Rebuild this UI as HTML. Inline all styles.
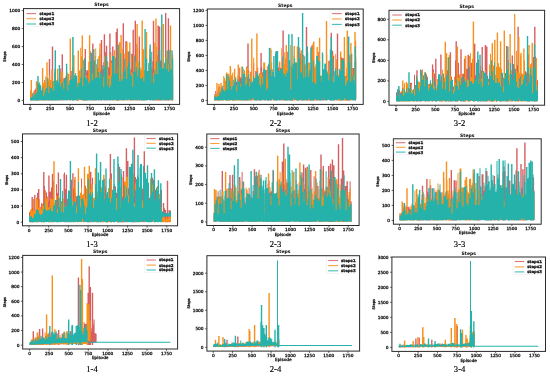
<!DOCTYPE html><html><head><meta charset="utf-8"><style>html,body{margin:0;padding:0;background:#fff;width:550px;height:377px;overflow:hidden}svg{display:block;filter:blur(0.3px)}text{font-family:"DejaVu Sans","Liberation Sans",sans-serif;fill:#111}text.t{stroke:#111;stroke-width:0.28px}text.h{stroke:#111;stroke-width:0.05px}text.lab{font-family:"Liberation Serif","DejaVu Serif",serif;fill:#000;stroke:#000;stroke-width:0.15px}</style></head><body><svg width="550" height="377" viewBox="0 0 550 377"><defs><clipPath id="c0"><rect x="23.5" y="8.6" width="156.1" height="95.8"/></clipPath><clipPath id="c1"><rect x="207.3" y="9" width="155.9" height="95.4"/></clipPath><clipPath id="c2"><rect x="389" y="10.3" width="155.6" height="94.9"/></clipPath><clipPath id="c3"><rect x="22.5" y="133.9" width="155.1" height="91.9"/></clipPath><clipPath id="c4"><rect x="206.8" y="134" width="152.3" height="91.5"/></clipPath><clipPath id="c5"><rect x="393.4" y="138.8" width="147.8" height="85.4"/></clipPath><clipPath id="c6"><rect x="22.7" y="255.4" width="154.9" height="93.6"/></clipPath><clipPath id="c7"><rect x="206.9" y="255.7" width="152.7" height="95.4"/></clipPath><clipPath id="c8"><rect x="391.9" y="257" width="153.6" height="94.4"/></clipPath></defs><rect width="550" height="377" fill="#fff"/><g clip-path="url(#c0)">
<path fill="#d65f62" d="M30.2 100.38V90.29h1V96.46h1V94.85h1V93.48h1V89.99h1V88.38h1V88.44h1V89.52h1V86.28h1V95.17h1V87.33h1V93.6h1V90.97h1V92.28h1V79.96h1V86.19h1V87.65h1V86.19h1V87.08h1V80.43h1V93.36h1V91.22h1V84.23h1V87.37h1V81.62h1V81.62h1V89.34h1V77.29h1V84.21h1V80.12h1V68.43h1V78.29h1V84.35h1V78.2h1V78.2h1V76.6h1V80.45h1V89.86h1V84.86h1V86.11h1V83.16h1V70.93h1V88.82h1V75.02h1V78.69h1V84.4h1V81.53h1V87.75h1V72.17h1V77.6h1V70.87h1V69.33h1V75.32h1V78.24h1V84.23h1V73.09h1V70.25h1V70.27h1V70.27h1V84.26h1V51.14h1V61.34h1V75.59h1V65.88h1V64.5h1V80.2h1V64.21h1V77.45h1V77.97h1V54.26h1V69.81h1V69.26h1V69.26h1V62.3h1V68.66h1V51.91h1V57.03h1V61.57h1V67.2h1V52.23h1V52.23h1V60.42h1V56.32h1V59.51h1V78.89h1V73.98h1V74.96h1V81.67h1V49.75h1V71.36h1V57.53h1V74.62h1V70.56h1V79.82h1V85.27h1V41.22h1V41.22h1V51.49h1V51.49h1V86.22h1V69.14h1V53.8h1V53.8h1V77.85h1V66.56h1V56.84h1V43.63h1V61.03h1V82.22h1V84.43h1V71.3h1V71.57h1V63.21h1V63.24h1V71.24h1V65.18h1V76.26h1V84.06h1V72.67h1V56.65h1V58.39h1V69.08h1V61.32h1V67.41h1V74.5h1V83.28h1V79.03h1V55.09h1V56.02h1V75.12h1V60.39h1V60.39h1V74.13h1V63.85h1V66.7h1V64.17h1V64.17h1V77.82h1V78.42h1V69.4h1V57.76h1V69.83h1V75.54h1V100.4h-1V99.9h-1V99.24h-1V99.71h-1V100.32h-1V100.32h-1V100.38h-1V100.39h-1V97.96h-1V99.52h-1V99.52h-1V98.83h-1V100.24h-1V100.07h-1V99.78h-1V99.47h-1V100.28h-1V99.03h-1V100.12h-1V99.75h-1V99.57h-1V99.39h-1V100.19h-1V98.93h-1V97.97h-1V99.94h-1V99.94h-1V99.72h-1V100.33h-1V100.33h-1V99.9h-1V100.35h-1V99.68h-1V100.12h-1V99.28h-1V100.38h-1V100.32h-1V98.61h-1V99.91h-1V98.41h-1V99.26h-1V99.03h-1V99.65h-1V99.78h-1V100.28h-1V99.32h-1V99.15h-1V99.77h-1V99.77h-1V99.77h-1V99.99h-1V99.74h-1V99.45h-1V100.11h-1V100.3h-1V100.32h-1V99.47h-1V100.09h-1V98.76h-1V99.77h-1V99.66h-1V99.06h-1V99.42h-1V100.26h-1V98.42h-1V100.18h-1V99.91h-1V99.91h-1V100.35h-1V99.6h-1V98.47h-1V100.1h-1V98.79h-1V98.62h-1V100.24h-1V99.98h-1V100.28h-1V100.31h-1V98.78h-1V99.66h-1V100.02h-1V98.77h-1V99.73h-1V99.73h-1V99.6h-1V100.18h-1V100.3h-1V99.75h-1V100.2h-1V98.79h-1V99.61h-1V100.1h-1V100.37h-1V99.95h-1V100.21h-1V100.38h-1V100.38h-1V100.05h-1V99.24h-1V99.99h-1V100.38h-1V97.62h-1V100.16h-1V99.6h-1V100.08h-1V99.87h-1V99.42h-1V99.52h-1V99.66h-1V100.35h-1V99.77h-1V98.94h-1V99.35h-1V100.24h-1V99.75h-1V99.85h-1V99.85h-1V100.17h-1V100.37h-1V100.37h-1V99.97h-1V99.93h-1V99.93h-1V100.39h-1V100.36h-1V99.42h-1V100.33h-1V100.17h-1V100.38h-1V99.77h-1V99.94h-1V100.29h-1V100.31h-1V100.32h-1V100.36h-1V100.26h-1V100.3h-1V100.27h-1V100h-1V100.19h-1V100.34h-1V100.34h-1V100.38h-1ZM48.8 58.9h1.4V100.4h-1.4ZM51.8 46.5h1.4V100.4h-1.4ZM61.6 54.3h1.4V100.4h-1.4ZM84.6 49h1.4V100.4h-1.4ZM92.1 43.6h1.4V100.4h-1.4ZM100.8 40h1.4V100.4h-1.4ZM103.7 34.2h1.4V100.4h-1.4ZM105.8 45.8h1.4V100.4h-1.4ZM109.2 33.5h1.4V100.4h-1.4ZM112.1 46.5h1.4V100.4h-1.4ZM115.6 32h1.4V100.4h-1.4ZM116.5 28.4h1.4V100.4h-1.4ZM122.6 23.3h1.4V100.4h-1.4ZM132.5 29.8h1.4V100.4h-1.4ZM134.6 20.8h1.4V100.4h-1.4ZM138.6 36.4h1.4V100.4h-1.4ZM152.8 20.8h1.4V100.4h-1.4ZM157.5 25.5h1.4V100.4h-1.4ZM158.9 26.6h1.4V100.4h-1.4ZM165 13.1h1.4V100.4h-1.4ZM167.7 18.2h1.4V100.4h-1.4Z"/>
<path fill="#f8901c" d="M30.2 100.04V91.04h1V92.11h1V95.77h1V91.29h1V93.68h1V93.74h1V88.61h1V82.17h1V85.24h1V91.23h1V90.95h1V90.91h1V83.9h1V82.98h1V82.98h1V76.86h1V93.12h1V81.86h1V78.85h1V75.59h1V79.92h1V90.75h1V79.75h1V81.1h1V72.03h1V82.99h1V80.12h1V84.88h1V82.92h1V68.03h1V80.81h1V72.09h1V72.09h1V82.68h1V85.04h1V85.24h1V74.33h1V72.78h1V74.11h1V85.79h1V76.71h1V85.52h1V67.11h1V67.07h1V83.04h1V79.67h1V81.83h1V83.34h1V70.25h1V70.25h1V47.86h1V56.31h1V73.62h1V78.45h1V73.59h1V75.28h1V75.28h1V81.74h1V61.72h1V61.72h1V70.26h1V62.23h1V73.46h1V73.46h1V71.95h1V48.54h1V68.12h1V68.12h1V56.15h1V49.05h1V76.69h1V77.84h1V80.68h1V76.42h1V56.08h1V71.44h1V62.39h1V62.15h1V75.53h1V75.53h1V53.78h1V62.89h1V79.31h1V69.73h1V65.79h1V69.94h1V81.85h1V66.2h1V64.98h1V56.12h1V56.12h1V75.69h1V48.83h1V85.8h1V53.43h1V69.21h1V47.65h1V51.99h1V76.15h1V69.79h1V82.2h1V72.05h1V73.65h1V54.91h1V76.79h1V61.75h1V47.51h1V47.51h1V62.6h1V71.88h1V67.64h1V70.08h1V48.58h1V49.29h1V70.44h1V48.48h1V76.31h1V74.19h1V76.23h1V48.63h1V72.74h1V67.85h1V78.16h1V73.03h1V42.85h1V61.9h1V46.77h1V61.08h1V66.1h1V77.9h1V76.9h1V77.72h1V73.76h1V64.54h1V63.76h1V57.31h1V50.69h1V58.12h1V63.89h1V63.89h1V61.81h1V73.22h1V54.53h1V99.35h-1V100.27h-1V98.42h-1V100.27h-1V100.16h-1V99.55h-1V99.28h-1V97.28h-1V100.27h-1V99.79h-1V99.85h-1V99.8h-1V100.13h-1V100.39h-1V97.87h-1V100.28h-1V100.33h-1V96.09h-1V100.26h-1V99.89h-1V100.4h-1V99.16h-1V99.18h-1V99.51h-1V99.51h-1V100.27h-1V99.45h-1V99.87h-1V98.86h-1V100.02h-1V99.95h-1V99.6h-1V100.31h-1V99.68h-1V99.74h-1V98.5h-1V100.34h-1V99.08h-1V98.47h-1V99.95h-1V100.06h-1V100.26h-1V100.26h-1V100.32h-1V98.14h-1V98.88h-1V98.88h-1V100.27h-1V100.21h-1V100.32h-1V99.52h-1V97.98h-1V99.81h-1V100.32h-1V99.18h-1V100.38h-1V99.7h-1V99.7h-1V99.72h-1V99.47h-1V99.96h-1V98.66h-1V99.8h-1V99.54h-1V98.33h-1V100.09h-1V99.65h-1V98.1h-1V99.96h-1V99.09h-1V97.06h-1V100.37h-1V99.97h-1V99.97h-1V99.71h-1V98.45h-1V98.38h-1V99.87h-1V100.13h-1V99.65h-1V100h-1V99.67h-1V100.31h-1V98.06h-1V99.66h-1V99.98h-1V100.4h-1V99.23h-1V100.18h-1V100.38h-1V100.38h-1V100.28h-1V99.98h-1V99.98h-1V99.13h-1V100.39h-1V100.11h-1V99.48h-1V98.35h-1V99.37h-1V99.59h-1V99.94h-1V100.21h-1V99.95h-1V100.21h-1V98.45h-1V99.74h-1V99.93h-1V100.27h-1V99.75h-1V99.34h-1V99.56h-1V100.32h-1V99.82h-1V99.41h-1V99.65h-1V99.56h-1V100.35h-1V100.35h-1V99.15h-1V100.37h-1V100.13h-1V99.9h-1V99.9h-1V100.39h-1V99.18h-1V99.49h-1V100.26h-1V100.07h-1V100.25h-1V99.97h-1V100.29h-1V100.28h-1V100.21h-1V100.21h-1V100.39h-1V100.15h-1V100.36h-1V100.08h-1V100.33h-1V99.93h-1V99.69h-1V100.04h-1ZM30.6 80h1.4V100.4h-1.4ZM35.8 81.2h1.4V100.4h-1.4ZM41.9 68h1.4V100.4h-1.4ZM46.3 62.3h1.4V100.4h-1.4ZM51.3 69.5h1.4V100.4h-1.4ZM56.9 68.8h1.4V100.4h-1.4ZM69.6 38.5h1.4V100.4h-1.4ZM73.2 55.3h1.4V100.4h-1.4ZM77.6 50.5h1.4V100.4h-1.4ZM81.6 35.6h1.4V100.4h-1.4ZM88.9 35.3h1.4V100.4h-1.4ZM94.7 56h1.4V100.4h-1.4ZM99.4 43.6h1.4V100.4h-1.4ZM113.8 50.2h1.4V100.4h-1.4ZM118.9 42.2h1.4V100.4h-1.4ZM120.4 34.9h1.4V100.4h-1.4ZM126.2 42.2h1.4V100.4h-1.4ZM129.1 42.6h1.4V100.4h-1.4ZM136.4 24h1.4V100.4h-1.4ZM141.5 20.4h1.4V100.4h-1.4ZM145.8 32h1.4V100.4h-1.4ZM155.3 18.5h1.4V100.4h-1.4ZM162.6 24h1.4V100.4h-1.4ZM169.8 25.5h1.4V100.4h-1.4Z"/>
<path fill="#24b2aa" d="M30.2 100.4V96.74h1V98.07h1V93.03h1V96.61h1V93.92h1V94.46h1V92.39h1V92.2h1V84.2h1V82.24h1V85.35h1V90.15h1V87.26h1V95.95h1V92.76h1V89.22h1V87.94h1V77.64h1V93.04h1V86.1h1V88.11h1V88.38h1V80.96h1V90.86h1V68.86h1V84.21h1V81.1h1V79.83h1V82.73h1V82.8h1V86.39h1V83.06h1V81.33h1V88.79h1V77.88h1V79.29h1V72.51h1V91.01h1V84.63h1V80.51h1V75.74h1V79.53h1V78.23h1V78.76h1V74.9h1V72.97h1V75.64h1V86.93h1V83.5h1V82.69h1V77.5h1V68.36h1V86.24h1V59.87h1V58.12h1V76.81h1V79.3h1V77.83h1V83.48h1V81.4h1V61.8h1V81.11h1V80.28h1V77.32h1V60.44h1V78.04h1V77.24h1V58.88h1V72.11h1V77.88h1V71.23h1V73.78h1V65.04h1V86.99h1V66.82h1V56.42h1V56.42h1V85.85h1V78.97h1V87.64h1V84.89h1V76.57h1V55.99h1V55.99h1V73.39h1V57.61h1V73.29h1V74.37h1V78.04h1V80.99h1V53.22h1V81.35h1V78.96h1V72.27h1V59.05h1V69.43h1V79.02h1V66.93h1V62.86h1V51.14h1V73.79h1V75.96h1V86.8h1V71.83h1V55.43h1V71.45h1V66.98h1V76.58h1V69.26h1V60.86h1V78.7h1V78.23h1V77.25h1V81.24h1V82.25h1V58.49h1V58.49h1V71.09h1V62.93h1V75.36h1V83.42h1V51.79h1V76.28h1V83.21h1V69.65h1V74.02h1V61.5h1V73.98h1V62.87h1V49.91h1V66.9h1V64.51h1V68.35h1V68.64h1V62.6h1V58.76h1V69.16h1V50.46h1V71.83h1V49.69h1V69.14h1V76.88h1V59.36h1V99.6h-1V100.4h-1V99.1h-1V100.04h-1V100.37h-1V100.32h-1V99.71h-1V100.11h-1V100.37h-1V100.33h-1V99.32h-1V99.33h-1V100.14h-1V99.78h-1V98.81h-1V99.39h-1V100.37h-1V100.27h-1V100.22h-1V100.25h-1V100.35h-1V100.29h-1V100.37h-1V100.11h-1V100.11h-1V100.02h-1V100.35h-1V100.01h-1V99.61h-1V100.38h-1V100.38h-1V100.25h-1V100.25h-1V100.31h-1V99.89h-1V100.34h-1V99.92h-1V99.83h-1V99.82h-1V100.36h-1V100.37h-1V100.26h-1V100.39h-1V99.7h-1V99.59h-1V100.25h-1V100.01h-1V99.72h-1V100.35h-1V100.15h-1V100.25h-1V100.24h-1V99.95h-1V99.95h-1V100.35h-1V100.27h-1V100.19h-1V100.12h-1V99.66h-1V100.17h-1V99.94h-1V100.22h-1V100.3h-1V100.25h-1V100.25h-1V100.21h-1V100.07h-1V100.14h-1V100.06h-1V100.3h-1V100.09h-1V100.35h-1V100.35h-1V99.95h-1V100.4h-1V100.33h-1V100.33h-1V100.36h-1V100.36h-1V99.7h-1V99.92h-1V99.85h-1V100.13h-1V100.3h-1V100.3h-1V100.39h-1V100.32h-1V100.38h-1V100.4h-1V100.4h-1V100.32h-1V99.4h-1V100.08h-1V100.09h-1V98.63h-1V100.18h-1V100.33h-1V100.27h-1V100.27h-1V100.19h-1V100.1h-1V99.93h-1V100.34h-1V100.14h-1V99.63h-1V100.19h-1V100.13h-1V100.19h-1V100.29h-1V100.29h-1V99.55h-1V100.18h-1V100.2h-1V99.15h-1V99.89h-1V100.38h-1V100.38h-1V100.15h-1V100.12h-1V100.14h-1V100.38h-1V100.21h-1V100.38h-1V100.29h-1V100.2h-1V100.23h-1V100.33h-1V100.29h-1V100.3h-1V100.39h-1V100.38h-1V100.11h-1V100.19h-1V100.15h-1V100.4h-1V100.36h-1V100.38h-1V100.39h-1V100.39h-1V100.39h-1V100.38h-1V100.36h-1V100.4h-1ZM37.3 76h1.4V100.4h-1.4ZM54.6 50.2h1.4V100.4h-1.4ZM58.7 65h1.4V100.4h-1.4ZM65.9 63.7h1.4V100.4h-1.4ZM72.15 37.1h1.5V100.4h-1.5ZM90.7 53h1.4V100.4h-1.4ZM93.1 49h1.4V100.4h-1.4ZM117.5 44.4h1.4V100.4h-1.4ZM144.4 29.1h1.4V100.4h-1.4ZM149.5 44.4h1.4V100.4h-1.4ZM161.1 14.5h1.4V100.4h-1.4ZM171.3 50.2h1.4V100.4h-1.4Z"/>
</g>
<rect x="23.5" y="8.6" width="156.1" height="95.8" fill="none" stroke="#2a2a2a" stroke-width="1"/>
<text x="20.2" y="101.95" font-size="4.3" text-anchor="end" class="t">0</text>
<text x="20.2" y="83.99" font-size="4.3" text-anchor="end" class="t">200</text>
<text x="20.2" y="66.03" font-size="4.3" text-anchor="end" class="t">400</text>
<text x="20.2" y="48.07" font-size="4.3" text-anchor="end" class="t">600</text>
<text x="20.2" y="30.11" font-size="4.3" text-anchor="end" class="t">800</text>
<text x="20.2" y="12.15" font-size="4.3" text-anchor="end" class="t">1000</text>
<text x="30.2" y="110.3" font-size="4.3" text-anchor="middle" class="t">0</text>
<text x="50.1" y="110.3" font-size="4.3" text-anchor="middle" class="t">250</text>
<text x="70" y="110.3" font-size="4.3" text-anchor="middle" class="t">500</text>
<text x="89.9" y="110.3" font-size="4.3" text-anchor="middle" class="t">750</text>
<text x="109.8" y="110.3" font-size="4.3" text-anchor="middle" class="t">1000</text>
<text x="129.7" y="110.3" font-size="4.3" text-anchor="middle" class="t">1250</text>
<text x="149.6" y="110.3" font-size="4.3" text-anchor="middle" class="t">1500</text>
<text x="169.5" y="110.3" font-size="4.3" text-anchor="middle" class="t">1750</text>
<path stroke="#222" stroke-width="0.7" d="M23.5 100.4h-1.8M23.5 82.44h-1.8M23.5 64.48h-1.8M23.5 46.52h-1.8M23.5 28.56h-1.8M23.5 10.6h-1.8M30.2 104.4v1.8M50.1 104.4v1.8M70 104.4v1.8M89.9 104.4v1.8M109.8 104.4v1.8M129.7 104.4v1.8M149.6 104.4v1.8M169.5 104.4v1.8"/>
<text x="101.55" y="6.3" font-size="4.55" text-anchor="middle" class="h" font-weight="bold">Steps</text>
<text x="101.55" y="114.6" font-size="4.2" text-anchor="middle" class="t">Episode</text>
<text x="5.2" y="56.5" font-size="3.7" text-anchor="middle" class="t" transform="rotate(-90 5.2 56.5)" dy="1.3">Steps</text>
<rect x="24.6" y="11" width="29.7" height="15.6" rx="0.6" fill="#fff" fill-opacity="0.8" stroke="#e4e4e4" stroke-width="0.4"/>
<path stroke="#d65f62" stroke-width="1.1" stroke-opacity="0.85" d="M26.4 13.6H36.1"/>
<text x="39.5" y="15.05" font-size="3.9" text-anchor="start" class="t" font-weight="bold">steps1</text>
<path stroke="#f8901c" stroke-width="1.1" stroke-opacity="0.85" d="M26.4 18.7H36.1"/>
<text x="39.5" y="20.15" font-size="3.9" text-anchor="start" class="t" font-weight="bold">steps2</text>
<path stroke="#24b2aa" stroke-width="1.1" stroke-opacity="0.85" d="M26.4 24H36.1"/>
<text x="39.5" y="25.45" font-size="3.9" text-anchor="start" class="t" font-weight="bold">steps3</text>
<text x="92" y="125.8" font-size="8.6" text-anchor="middle" class="lab">1-2</text>
<g clip-path="url(#c1)">
<path fill="#d65f62" d="M214.2 100.35V96.19h1V91.08h1V94.21h1V91.6h1V86.86h1V86.86h1V96.3h1V90.89h1V88.36h1V90.01h1V90.96h1V88.09h1V73.65h1V88.95h1V83.44h1V77.09h1V77.09h1V88.7h1V86.81h1V89.12h1V78.25h1V79.11h1V82h1V87.75h1V76.73h1V67.74h1V77.48h1V76.33h1V78.23h1V73.88h1V83.17h1V77.02h1V66.41h1V85.18h1V70.86h1V78.84h1V71.7h1V80.77h1V82.35h1V63h1V81.29h1V71.09h1V71.09h1V67.45h1V77.66h1V73.45h1V67.46h1V67.46h1V72.27h1V72.27h1V72.5h1V87.14h1V69.95h1V67.15h1V65.08h1V78.26h1V77.39h1V80.51h1V84.78h1V76.93h1V86.8h1V53.99h1V85.69h1V62.85h1V67.46h1V62.52h1V67.68h1V68.79h1V64.68h1V78.24h1V73.38h1V68.47h1V82.23h1V51.76h1V72.88h1V75.58h1V65.49h1V76.21h1V76.01h1V76.49h1V73.07h1V81.37h1V81.26h1V72.39h1V77.21h1V47.49h1V53.61h1V60.83h1V58.62h1V83.26h1V74.67h1V78.12h1V78.12h1V81.38h1V73.97h1V80.53h1V68.91h1V45.56h1V45.56h1V84.22h1V75.06h1V67.62h1V65.43h1V62.22h1V51.8h1V92.21h1V79.51h1V83.87h1V69.86h1V78.56h1V84.05h1V83.4h1V54.1h1V74.93h1V60.88h1V60.88h1V69.33h1V50.77h1V50.77h1V55.83h1V86.33h1V67.82h1V74.03h1V63.74h1V87.27h1V68.82h1V57.33h1V57.33h1V58.15h1V58.15h1V63.3h1V76.17h1V74.93h1V51.86h1V89.51h1V55.18h1V55.18h1V71.02h1V68.1h1V68.1h1V62.11h1V57.1h1V99.33h-1V98.56h-1V99.73h-1V100.38h-1V100.08h-1V100.07h-1V100.4h-1V100.29h-1V100.44h-1V100.44h-1V100.16h-1V99.89h-1V100.49h-1V100h-1V98.97h-1V100.27h-1V100.37h-1V100.49h-1V100.2h-1V99.82h-1V99.82h-1V100.43h-1V100.35h-1V100.03h-1V100.48h-1V98.85h-1V99.68h-1V98.33h-1V99.44h-1V99.58h-1V100.17h-1V100.17h-1V100.47h-1V99.59h-1V100.31h-1V100.26h-1V100.45h-1V100.26h-1V100.33h-1V100.33h-1V99.04h-1V100.46h-1V100.46h-1V97.31h-1V100.46h-1V100.49h-1V100.48h-1V100.04h-1V100.44h-1V98.74h-1V100.23h-1V100.31h-1V100.31h-1V100.42h-1V100.42h-1V99.94h-1V99.58h-1V99.99h-1V100.19h-1V100.5h-1V99.42h-1V100.21h-1V100.08h-1V100.39h-1V100.41h-1V100.41h-1V100.49h-1V97.68h-1V99.32h-1V100.4h-1V99.72h-1V99.81h-1V98.83h-1V98.25h-1V100.47h-1V100.14h-1V99.82h-1V99.09h-1V100.06h-1V100.41h-1V100.33h-1V99.65h-1V98.25h-1V99.21h-1V100.48h-1V99.69h-1V99.69h-1V100.48h-1V100.48h-1V99.22h-1V100.4h-1V100.33h-1V100.17h-1V100.17h-1V99.35h-1V100.5h-1V100.5h-1V100h-1V100.49h-1V99.95h-1V100.36h-1V100.34h-1V99.92h-1V99.15h-1V100h-1V100.45h-1V99.74h-1V100.16h-1V100.43h-1V100.43h-1V100.43h-1V100.43h-1V99.35h-1V100.42h-1V100.12h-1V100.17h-1V100.48h-1V100.37h-1V99.87h-1V100.16h-1V99.94h-1V100.21h-1V100.44h-1V100.38h-1V99.69h-1V99.96h-1V100.44h-1V100.17h-1V100.3h-1V99.85h-1V100.34h-1V100.06h-1V99.07h-1V100.2h-1V100.28h-1V100.22h-1V100.37h-1V100.32h-1V100.42h-1V100.19h-1V100.18h-1V100.35h-1ZM247.3 43.6h1.4V100.5h-1.4ZM260.4 53.1h1.4V100.5h-1.4ZM282.4 30.5h1.4V100.5h-1.4ZM305.8 26.9h1.4V100.5h-1.4ZM330.6 32.7h1.4V100.5h-1.4ZM336.8 33.5h1.4V100.5h-1.4Z"/>
<path fill="#f8901c" d="M214.2 100.38V93.95h1V96.31h1V96.47h1V94.84h1V90.63h1V89.82h1V91.15h1V86.47h1V92.06h1V76.12h1V77.81h1V80.82h1V79.72h1V73.86h1V73.86h1V76.66h1V67.75h1V75.31h1V72.57h1V86.74h1V86.74h1V86.31h1V85.26h1V75.32h1V75.32h1V85.88h1V83.71h1V67.18h1V82.33h1V68.73h1V70.61h1V80.26h1V67.83h1V67.83h1V72.41h1V80.63h1V74.52h1V72.63h1V83.99h1V57.81h1V78.82h1V75.55h1V80.81h1V77.69h1V77.69h1V73.21h1V73.86h1V71.32h1V76.54h1V62.57h1V62.57h1V70.07h1V77.63h1V65.8h1V82.77h1V78.85h1V47.86h1V62.56h1V69.15h1V81.22h1V82.05h1V80.12h1V80.17h1V76.24h1V76.85h1V61.31h1V78.26h1V48.26h1V67.26h1V64.19h1V52.26h1V58.54h1V58.54h1V67.97h1V82.87h1V73.08h1V44.91h1V66.88h1V63.27h1V55.48h1V61.86h1V83.41h1V72.02h1V82.55h1V58.51h1V76.24h1V64.48h1V64.48h1V54.96h1V54.96h1V64.94h1V63.52h1V69.59h1V73.09h1V62.46h1V62.46h1V73.97h1V48.64h1V72.45h1V73h1V67.4h1V64.52h1V56.45h1V58.78h1V58.78h1V46.88h1V75.7h1V75.43h1V55.12h1V75.36h1V69.07h1V71.01h1V71.01h1V71.73h1V71.73h1V60.22h1V73.2h1V61.6h1V54.96h1V76.92h1V87.02h1V54.02h1V59.24h1V74.75h1V74.75h1V71.66h1V78.52h1V72.38h1V72.38h1V73.02h1V72.3h1V77.87h1V67.72h1V72.41h1V53.86h1V71.94h1V53.61h1V53.61h1V70.47h1V75.73h1V70.98h1V40.83h1V99.85h-1V99.07h-1V99.27h-1V97.85h-1V98.13h-1V99.98h-1V100.34h-1V99.94h-1V99.94h-1V98.86h-1V100.4h-1V100.37h-1V99.99h-1V100.15h-1V99.32h-1V99.72h-1V100.38h-1V100.19h-1V100.07h-1V100.07h-1V99.52h-1V100.39h-1V100.39h-1V99.51h-1V99.75h-1V99.77h-1V98.27h-1V99.8h-1V99.78h-1V100.07h-1V99.75h-1V99.72h-1V98.81h-1V98.02h-1V99.22h-1V98.99h-1V100.4h-1V98.66h-1V100.49h-1V100.12h-1V98.96h-1V99.96h-1V100.1h-1V98.83h-1V100.18h-1V99.42h-1V100.23h-1V100.4h-1V99.76h-1V99.06h-1V99.85h-1V100.47h-1V100.03h-1V99.32h-1V97.97h-1V98.75h-1V100.33h-1V100.33h-1V99.62h-1V99.74h-1V99.74h-1V100.35h-1V100.33h-1V99.71h-1V99.39h-1V100.44h-1V99.78h-1V98.45h-1V100.38h-1V100.04h-1V100.46h-1V100.49h-1V99.54h-1V99.54h-1V98.32h-1V100.14h-1V100.35h-1V99.96h-1V99.98h-1V99.93h-1V98.69h-1V100.26h-1V100.33h-1V99.43h-1V100.21h-1V99.28h-1V99.38h-1V98.34h-1V100.07h-1V99.88h-1V100.16h-1V100.16h-1V99.99h-1V99.99h-1V99.24h-1V99.62h-1V100.2h-1V99.93h-1V99.69h-1V99.69h-1V100.36h-1V98.57h-1V98.88h-1V100.33h-1V99.24h-1V100.29h-1V100.16h-1V100.19h-1V100.42h-1V100.33h-1V99.12h-1V100.48h-1V100.37h-1V99.96h-1V100.25h-1V100.18h-1V100.36h-1V100.36h-1V100.13h-1V100.23h-1V100.33h-1V100.14h-1V100.35h-1V100.35h-1V100.47h-1V99.69h-1V100.32h-1V100.48h-1V100.27h-1V98.94h-1V100.39h-1V99.92h-1V100.49h-1V100.3h-1V100.21h-1V100.3h-1V100.34h-1V100.28h-1V100.35h-1V100.22h-1V100.29h-1V100.38h-1ZM251.1 38.5h1.4V100.5h-1.4ZM256.2 33.5h1.4V100.5h-1.4ZM270.3 49.5h1.4V100.5h-1.4ZM275.7 53.8h1.4V100.5h-1.4ZM285.6 45h1.4V100.5h-1.4ZM293.5 46.1h1.4V100.5h-1.4ZM296.7 46.5h1.4V100.5h-1.4ZM300.5 50.2h1.4V100.5h-1.4ZM312.4 43.6h1.4V100.5h-1.4ZM313.1 41.5h1.4V100.5h-1.4ZM316.5 47h1.4V100.5h-1.4ZM318.9 37.8h1.4V100.5h-1.4ZM325.8 21.1h1.4V100.5h-1.4ZM340 51.6h1.4V100.5h-1.4ZM343.7 37.1h1.4V100.5h-1.4ZM346.6 30.5h1.4V100.5h-1.4ZM350.2 42.9h1.4V100.5h-1.4ZM354.3 32h1.4V100.5h-1.4ZM225.9 72.5h1.4V100.5h-1.4ZM229.6 66h1.4V100.5h-1.4ZM233.9 68.8h1.4V100.5h-1.4ZM237.6 64.5h1.4V100.5h-1.4ZM241.2 66.6h1.4V100.5h-1.4ZM216.3 83h1.4V100.5h-1.4ZM218.3 84h1.4V100.5h-1.4ZM220.3 83h1.4V100.5h-1.4Z"/>
<path fill="#24b2aa" d="M214.2 100.44V95.86h1V96.95h1V96.96h1V96.04h1V95.95h1V92.43h1V92.43h1V88.48h1V85.46h1V90.37h1V91.48h1V89.84h1V94.1h1V89.34h1V75.98h1V80.71h1V86.26h1V89.7h1V86.03h1V79.8h1V82.57h1V77h1V91.34h1V79.5h1V81.55h1V81.88h1V86.69h1V78.77h1V66.83h1V73.93h1V73.93h1V85.46h1V83.5h1V77.37h1V74.08h1V86.63h1V80.63h1V83.08h1V81.4h1V75.8h1V78.27h1V77.48h1V72.14h1V74.07h1V75.71h1V84.24h1V86.64h1V77.78h1V84.26h1V69.07h1V69.07h1V70.09h1V90.36h1V87.92h1V63.69h1V81.31h1V69.55h1V75.92h1V72.08h1V76.97h1V76.97h1V51.56h1V51.04h1V51.04h1V70.91h1V70.91h1V68.94h1V68.49h1V56.68h1V73.71h1V73.71h1V76.55h1V70.74h1V73.08h1V60.25h1V60.25h1V89.39h1V84.08h1V68.14h1V63.88h1V57.98h1V62.5h1V62.5h1V79.48h1V58.34h1V58.34h1V72.42h1V72.42h1V77.36h1V77.69h1V56.25h1V76.7h1V52.32h1V52.32h1V76.67h1V70.39h1V73.3h1V62.85h1V82.62h1V60.3h1V82.44h1V84.18h1V55.95h1V55.95h1V60.46h1V61.87h1V75.94h1V81.81h1V73.96h1V69.16h1V63.61h1V63.69h1V70.43h1V73.52h1V80.28h1V73.77h1V78.68h1V81.36h1V58.61h1V82.21h1V71.26h1V68.33h1V75.22h1V69.1h1V76.95h1V69.68h1V70.7h1V59.5h1V59.5h1V60.65h1V76.64h1V85.82h1V82.73h1V80.21h1V69.67h1V62.74h1V81.7h1V54.06h1V75.28h1V79.72h1V83.73h1V61.35h1V99.45h-1V99.62h-1V100.38h-1V100.02h-1V99.66h-1V99.71h-1V99.84h-1V99.6h-1V99.94h-1V99.49h-1V100.33h-1V98.1h-1V99.72h-1V100.41h-1V100.49h-1V100.4h-1V99.14h-1V99.04h-1V99.64h-1V100.17h-1V99.6h-1V100.35h-1V100.27h-1V100.48h-1V100.26h-1V100.06h-1V100.43h-1V99.74h-1V100.07h-1V100.44h-1V99.99h-1V100.16h-1V97.96h-1V100.19h-1V100.04h-1V100.42h-1V100.17h-1V99.94h-1V99.48h-1V100.49h-1V100.35h-1V99.11h-1V100.13h-1V100.44h-1V100.44h-1V99.51h-1V100.12h-1V98.41h-1V100.43h-1V99.28h-1V99.73h-1V100.33h-1V100.19h-1V100.43h-1V99.17h-1V100h-1V100.17h-1V99.78h-1V100.38h-1V99.89h-1V99.65h-1V99.65h-1V97.88h-1V100.35h-1V100.35h-1V100.3h-1V100.07h-1V100.31h-1V100.31h-1V100.42h-1V100.49h-1V100.28h-1V100.33h-1V99.44h-1V100.08h-1V99.82h-1V100.46h-1V100.31h-1V100.47h-1V100.21h-1V100.48h-1V100.16h-1V100.2h-1V98.7h-1V99.47h-1V100.16h-1V100.43h-1V100.38h-1V100.46h-1V100.08h-1V100.24h-1V100.16h-1V99.75h-1V99.75h-1V100.05h-1V100.4h-1V100.43h-1V100.21h-1V100.01h-1V100.49h-1V100.37h-1V100.39h-1V99.46h-1V98h-1V99.7h-1V99.44h-1V100.46h-1V99.61h-1V100.27h-1V99.91h-1V100.3h-1V100.3h-1V100.47h-1V100.28h-1V100.49h-1V100.14h-1V99.66h-1V99.9h-1V100.25h-1V100.35h-1V100.48h-1V99.16h-1V100.49h-1V100.48h-1V100.09h-1V99.69h-1V100.27h-1V99.79h-1V100.47h-1V100.36h-1V100.36h-1V100.12h-1V100.36h-1V100.47h-1V99.91h-1V100.23h-1V100.28h-1V100.38h-1V100.35h-1V99.88h-1V100.21h-1V100.44h-1ZM268.8 48h1.4V100.5h-1.4ZM273.2 56h1.4V100.5h-1.4ZM288.1 34.2h1.4V100.5h-1.4ZM291.3 33.9h1.4V100.5h-1.4ZM297.8 37.1h1.4V100.5h-1.4ZM301.9 13.1h1.4V100.5h-1.4ZM306.6 46.5h1.4V100.5h-1.4ZM310.2 47.3h1.4V100.5h-1.4ZM321.8 52.4h1.4V100.5h-1.4ZM329.8 49.5h1.4V100.5h-1.4ZM330.6 37h1.4V100.5h-1.4ZM348 36.4h1.4V100.5h-1.4ZM354.6 46.5h1.4V100.5h-1.4ZM225.9 74.6h1.4V100.5h-1.4Z"/>
</g>
<rect x="207.3" y="9" width="155.9" height="95.4" fill="none" stroke="#2a2a2a" stroke-width="1"/>
<text x="204" y="102.05" font-size="4.3" text-anchor="end" class="t">0</text>
<text x="204" y="87.03" font-size="4.3" text-anchor="end" class="t">200</text>
<text x="204" y="72.02" font-size="4.3" text-anchor="end" class="t">400</text>
<text x="204" y="57" font-size="4.3" text-anchor="end" class="t">600</text>
<text x="204" y="41.98" font-size="4.3" text-anchor="end" class="t">800</text>
<text x="204" y="26.97" font-size="4.3" text-anchor="end" class="t">1000</text>
<text x="204" y="11.95" font-size="4.3" text-anchor="end" class="t">1200</text>
<text x="214.2" y="110.3" font-size="4.3" text-anchor="middle" class="t">0</text>
<text x="233.97" y="110.3" font-size="4.3" text-anchor="middle" class="t">250</text>
<text x="253.74" y="110.3" font-size="4.3" text-anchor="middle" class="t">500</text>
<text x="273.51" y="110.3" font-size="4.3" text-anchor="middle" class="t">750</text>
<text x="293.29" y="110.3" font-size="4.3" text-anchor="middle" class="t">1000</text>
<text x="313.06" y="110.3" font-size="4.3" text-anchor="middle" class="t">1250</text>
<text x="332.83" y="110.3" font-size="4.3" text-anchor="middle" class="t">1500</text>
<text x="352.6" y="110.3" font-size="4.3" text-anchor="middle" class="t">1750</text>
<path stroke="#222" stroke-width="0.7" d="M207.3 100.5h-1.8M207.3 85.48h-1.8M207.3 70.47h-1.8M207.3 55.45h-1.8M207.3 40.43h-1.8M207.3 25.42h-1.8M207.3 10.4h-1.8M214.2 104.4v1.8M233.97 104.4v1.8M253.74 104.4v1.8M273.51 104.4v1.8M293.29 104.4v1.8M313.06 104.4v1.8M332.83 104.4v1.8M352.6 104.4v1.8"/>
<text x="285.25" y="6.7" font-size="4.55" text-anchor="middle" class="h" font-weight="bold">Steps</text>
<text x="285.25" y="114.6" font-size="4.2" text-anchor="middle" class="t">Episode</text>
<text x="189" y="56.7" font-size="3.7" text-anchor="middle" class="t" transform="rotate(-90 189 56.7)" dy="1.3">Steps</text>
<rect x="330.1" y="11" width="29.7" height="16" rx="0.6" fill="#fff" fill-opacity="0.8" stroke="#e4e4e4" stroke-width="0.4"/>
<path stroke="#d65f62" stroke-width="1.1" stroke-opacity="0.85" d="M331.9 13.6H341.7"/>
<text x="345" y="15.05" font-size="3.9" text-anchor="start" class="t" font-weight="bold">steps1</text>
<path stroke="#f8901c" stroke-width="1.1" stroke-opacity="0.85" d="M331.9 19H341.7"/>
<text x="345" y="20.45" font-size="3.9" text-anchor="start" class="t" font-weight="bold">steps2</text>
<path stroke="#24b2aa" stroke-width="1.1" stroke-opacity="0.85" d="M331.9 24.4H341.7"/>
<text x="345" y="25.85" font-size="3.9" text-anchor="start" class="t" font-weight="bold">steps3</text>
<text x="275.5" y="125.8" font-size="8.6" text-anchor="middle" class="lab">2-2</text>
<g clip-path="url(#c2)">
<path fill="#d65f62" d="M396 101.23V92.23h1V94.51h1V95.52h1V90.22h1V92.21h1V92.64h1V92.04h1V87.74h1V96.81h1V92.69h1V91.69h1V91.69h1V88.24h1V88.51h1V82.64h1V82.64h1V93.15h1V89.35h1V74.68h1V94.39h1V90.48h1V93.78h1V85.26h1V82.04h1V69.52h1V81.41h1V86.1h1V86h1V76.77h1V89.01h1V74.2h1V83.89h1V85.46h1V83.78h1V89.84h1V89.28h1V83.3h1V69.53h1V73.38h1V86.26h1V89.9h1V82.94h1V85.2h1V77.14h1V80.44h1V83.94h1V80.97h1V80.97h1V84.7h1V87.14h1V86.7h1V70.32h1V84.29h1V81.8h1V85.81h1V76.42h1V83.23h1V86.6h1V77.47h1V60.54h1V75.45h1V75.45h1V62.69h1V80.72h1V79.96h1V81.94h1V73.75h1V73.75h1V78.6h1V70.6h1V68.83h1V68.83h1V89.72h1V68.81h1V81.74h1V62.76h1V62.76h1V71.68h1V80.39h1V75.25h1V86.2h1V73.32h1V59.69h1V73.54h1V73.54h1V70.84h1V66.01h1V78.65h1V73.93h1V66.78h1V55.85h1V75.76h1V78.68h1V85h1V75.24h1V81.87h1V81.61h1V81.61h1V85.64h1V75.44h1V81.06h1V81.54h1V81.54h1V76.78h1V69.29h1V82.87h1V75.97h1V77.77h1V71.68h1V84.74h1V85.76h1V73.32h1V75.67h1V86.88h1V75.66h1V81.87h1V75.31h1V75.31h1V80.07h1V68.77h1V64.97h1V65.53h1V68.57h1V80.2h1V88.4h1V73.47h1V83.98h1V75.5h1V72.64h1V71.19h1V72.61h1V83.38h1V54.22h1V74.08h1V76.96h1V70.1h1V70.1h1V56.92h1V56.59h1V56.59h1V66.02h1V80.33h1V100.13h-1V101.29h-1V101.4h-1V100.36h-1V100.68h-1V100.11h-1V100.8h-1V100.64h-1V101.03h-1V101.36h-1V101.37h-1V100.92h-1V101.26h-1V101.3h-1V100.65h-1V101.2h-1V101.2h-1V100.79h-1V101.03h-1V100.76h-1V100.18h-1V99.6h-1V98.7h-1V101.28h-1V100.81h-1V101.33h-1V101.25h-1V101.25h-1V100.94h-1V100.89h-1V100.94h-1V100.43h-1V101.33h-1V98.9h-1V99.61h-1V100.55h-1V101.26h-1V101.26h-1V101.26h-1V100.57h-1V100.93h-1V101.4h-1V99.81h-1V100.05h-1V100.57h-1V101.28h-1V101.28h-1V101.28h-1V101.28h-1V99.91h-1V99.38h-1V101.21h-1V100.9h-1V101.24h-1V100.43h-1V101.07h-1V101.07h-1V100.62h-1V100.41h-1V101.34h-1V101.34h-1V100.62h-1V99.84h-1V100.9h-1V100.63h-1V100.47h-1V100.56h-1V101.33h-1V101.08h-1V100.3h-1V100.11h-1V100.61h-1V101.15h-1V97.45h-1V101.39h-1V99.9h-1V101.25h-1V100.41h-1V100.92h-1V101h-1V101.34h-1V101.36h-1V100.27h-1V100.98h-1V101.28h-1V101.24h-1V100.8h-1V101.18h-1V100.96h-1V100.93h-1V100.46h-1V101.21h-1V100.66h-1V100.98h-1V100.56h-1V101.21h-1V101.4h-1V100.99h-1V101.36h-1V101.14h-1V100.65h-1V100.92h-1V100.92h-1V99.65h-1V100.63h-1V101.14h-1V100.63h-1V100.86h-1V101.28h-1V101.32h-1V101.33h-1V100.21h-1V101.18h-1V100.27h-1V98.78h-1V100.7h-1V101.01h-1V101.39h-1V101.39h-1V101.26h-1V101.3h-1V100.43h-1V100.71h-1V101.21h-1V101.18h-1V100.63h-1V100.57h-1V101.18h-1V101.29h-1V100.98h-1V101.33h-1V101.18h-1V101.02h-1V101.28h-1V101.08h-1V101.39h-1V101.32h-1V101.14h-1V101.25h-1V101.32h-1V101.36h-1V101.23h-1ZM435.1 58.7h1.4V101.4h-1.4ZM440.2 54.4h1.4V101.4h-1.4ZM449.7 52.2h1.4V101.4h-1.4ZM455.5 41.3h1.4V101.4h-1.4ZM460.3 49.3h1.4V101.4h-1.4ZM463.9 58.7h1.4V101.4h-1.4ZM467.6 55.1h1.4V101.4h-1.4ZM474 43.7h1.4V101.4h-1.4ZM481.5 47.1h1.4V101.4h-1.4ZM484.7 44.9h1.4V101.4h-1.4ZM486.1 46.4h1.4V101.4h-1.4ZM506 46.1h1.4V101.4h-1.4ZM511.6 55.4h1.4V101.4h-1.4ZM517.4 26.7h1.4V101.4h-1.4ZM534.1 26.7h1.4V101.4h-1.4ZM467.5 54.8h1.4V101.4h-1.4ZM416.3 70.3h1.4V101.4h-1.4ZM424.7 72.5h1.4V101.4h-1.4ZM431.9 64.5h1.4V101.4h-1.4Z"/>
<path fill="#f8901c" d="M396 101.05V96.7h1V93.36h1V87.86h1V94.49h1V96.5h1V90.87h1V87.98h1V87.88h1V83.27h1V91.82h1V92.83h1V83.55h1V91.53h1V91.4h1V93.13h1V84.27h1V89.97h1V95.66h1V89.03h1V86.26h1V84.37h1V77.7h1V81.42h1V82.26h1V75.18h1V80.93h1V69.35h1V86.18h1V72.62h1V83.96h1V82.1h1V76.82h1V83.93h1V85.35h1V82.14h1V83.42h1V83.42h1V71.67h1V86.22h1V81.75h1V87.83h1V79.01h1V85.56h1V85.56h1V93.83h1V86.23h1V69.7h1V85.6h1V77.66h1V83.92h1V79.81h1V78.49h1V78.36h1V78.36h1V75.48h1V82.65h1V88.29h1V89.77h1V76.74h1V82.6h1V78.32h1V75.54h1V78.25h1V74.44h1V73.12h1V84.19h1V74.5h1V87.36h1V78.05h1V78.05h1V80.46h1V79.56h1V80.27h1V55.96h1V53.21h1V76.96h1V58.72h1V77.55h1V81.8h1V79.97h1V83.07h1V69.28h1V78.92h1V75.33h1V65.69h1V79.08h1V71.87h1V71.87h1V77.52h1V70.92h1V80.88h1V80.4h1V81.65h1V64.39h1V53.69h1V87.24h1V56.38h1V65.61h1V86.12h1V74.8h1V66.63h1V78.74h1V63.2h1V67.12h1V69.28h1V68.73h1V73.87h1V86.42h1V60.95h1V82.52h1V74.72h1V85.55h1V60.22h1V74.43h1V87.93h1V70.28h1V83.66h1V86.19h1V64.62h1V77.83h1V50.9h1V72.48h1V81.58h1V72.92h1V55.27h1V78.03h1V73.85h1V73.85h1V60.4h1V73.71h1V84.3h1V66.39h1V72.93h1V86.95h1V64.25h1V63.04h1V81.9h1V77.04h1V71.12h1V80.95h1V76.37h1V91.87h1V101.15h-1V100.51h-1V100.67h-1V100.28h-1V100.71h-1V100.71h-1V100.64h-1V99.24h-1V101.07h-1V101.23h-1V101.32h-1V100.83h-1V99.42h-1V99.57h-1V99.81h-1V100.48h-1V100.48h-1V99.84h-1V99.19h-1V101.22h-1V101.22h-1V101.24h-1V101.24h-1V100.93h-1V100.51h-1V100.84h-1V100.24h-1V99.91h-1V100.4h-1V101.13h-1V100.81h-1V101.3h-1V100.72h-1V100.37h-1V101.26h-1V100.49h-1V101.36h-1V100.53h-1V101.05h-1V100.93h-1V101.18h-1V100.88h-1V100.58h-1V101.18h-1V101.35h-1V101.35h-1V101.32h-1V101.3h-1V101.33h-1V101.33h-1V101.26h-1V100.74h-1V100.54h-1V100.89h-1V101.16h-1V101.19h-1V99.81h-1V101.39h-1V101.37h-1V101.34h-1V99.87h-1V101.05h-1V101.29h-1V101.36h-1V101.03h-1V101.03h-1V100.92h-1V100.41h-1V100.85h-1V101.34h-1V100.99h-1V100.3h-1V100.93h-1V101.29h-1V101.27h-1V101.28h-1V101.28h-1V101.34h-1V100.9h-1V100.88h-1V101.39h-1V101.22h-1V101.3h-1V100.85h-1V100.71h-1V101.33h-1V101.36h-1V100.04h-1V99.97h-1V101.19h-1V100.73h-1V101.01h-1V101.01h-1V100.34h-1V101.38h-1V101.16h-1V100.86h-1V101.23h-1V101.23h-1V100.52h-1V100.67h-1V101.07h-1V100.89h-1V101.3h-1V101.1h-1V100.94h-1V101.35h-1V101.27h-1V100.76h-1V100.91h-1V100.9h-1V101.31h-1V101.31h-1V100h-1V101.35h-1V100.96h-1V101.27h-1V101.05h-1V100.24h-1V100.75h-1V100.93h-1V101.34h-1V101.32h-1V101.32h-1V101.18h-1V101.36h-1V101.15h-1V100.73h-1V101.38h-1V101.19h-1V100.9h-1V100.9h-1V101.34h-1V101.38h-1V101.36h-1V101.02h-1V101.02h-1V101.34h-1V101.13h-1V101.39h-1V101.39h-1V101.05h-1ZM444.6 41.7h1.4V101.4h-1.4ZM445.8 52.9h1.4V101.4h-1.4ZM448.7 55.1h1.4V101.4h-1.4ZM456.7 46.4h1.4V101.4h-1.4ZM465 56.3h1.4V101.4h-1.4ZM464.7 55.8h1.4V101.4h-1.4ZM472.7 21.6h1.4V101.4h-1.4ZM491.6 43.2h1.4V101.4h-1.4ZM494.1 39.8h1.4V101.4h-1.4ZM496.7 32.5h1.4V101.4h-1.4ZM499.9 41.3h1.4V101.4h-1.4ZM503.6 30.4h1.4V101.4h-1.4ZM509.4 34h1.4V101.4h-1.4ZM514.1 14.1h1.2V101.4h-1.2ZM518.1 36.9h1.4V101.4h-1.4ZM520.3 52.9h1.4V101.4h-1.4ZM523.2 48.5h1.4V101.4h-1.4ZM528.3 44.9h1.4V101.4h-1.4ZM531.5 42.7h1.4V101.4h-1.4ZM535.6 58h1.4V101.4h-1.4ZM402.1 80.5h1.4V101.4h-1.4ZM405.8 82h1.4V101.4h-1.4Z"/>
<path fill="#24b2aa" d="M396 101.32V95.81h1V89.22h1V93.23h1V98.15h1V94.12h1V92.93h1V88.44h1V95.71h1V89.65h1V93.31h1V88.26h1V92.42h1V92.4h1V93.66h1V86.98h1V93.37h1V93.41h1V89.9h1V95.58h1V84.92h1V75.82h1V79.4h1V88.22h1V91.4h1V86.19h1V79.29h1V80.11h1V75.18h1V86.46h1V81.58h1V80.32h1V76.94h1V90.21h1V87.48h1V80.13h1V85.16h1V77.78h1V88.58h1V89.31h1V81.41h1V90.61h1V85.04h1V74.36h1V74.36h1V81.63h1V75.71h1V88.79h1V73.46h1V81.75h1V89.54h1V74.95h1V78.59h1V78.59h1V91.57h1V81.02h1V79.73h1V79.73h1V93.74h1V90.91h1V85.17h1V79.3h1V85.89h1V89.32h1V81.31h1V84.71h1V77.95h1V76.11h1V83.09h1V79.25h1V81.66h1V80.34h1V87.62h1V86.06h1V66.78h1V81.24h1V81.24h1V83.18h1V83.67h1V78.32h1V80.99h1V62.75h1V62.75h1V84.55h1V84.09h1V87.21h1V81.62h1V86.77h1V70.92h1V72.86h1V72.19h1V74.95h1V78.32h1V85.33h1V72.45h1V75.92h1V60.21h1V71.17h1V80.32h1V62.3h1V82.77h1V82.77h1V77.98h1V83.26h1V81.99h1V86.23h1V72.63h1V72.63h1V91.63h1V78.51h1V73h1V70.07h1V70.07h1V80.46h1V84.83h1V63.09h1V74.35h1V79.78h1V64.09h1V68.62h1V72.97h1V81.97h1V86.91h1V88.12h1V78.45h1V76.25h1V85.28h1V84.36h1V79.38h1V75.28h1V74.37h1V86.08h1V87.27h1V67.36h1V82.62h1V68.19h1V75.48h1V93.03h1V67.06h1V67.06h1V68.58h1V90.46h1V84.99h1V101.03h-1V101.17h-1V101.11h-1V101.11h-1V101.34h-1V101.13h-1V101.26h-1V101.24h-1V101.38h-1V101.38h-1V100.99h-1V101.33h-1V101.33h-1V100.68h-1V100.68h-1V101.32h-1V101.01h-1V101.01h-1V98.85h-1V100.94h-1V100.94h-1V101.14h-1V101.35h-1V101h-1V100.59h-1V101.05h-1V101.05h-1V99.81h-1V99.51h-1V101.3h-1V101.3h-1V101.19h-1V101.36h-1V100.44h-1V101.37h-1V101.37h-1V101.17h-1V101.17h-1V101.15h-1V101.08h-1V100.84h-1V101.38h-1V99.59h-1V101.06h-1V101.27h-1V101.3h-1V101.38h-1V100.29h-1V100.17h-1V100.53h-1V100.79h-1V101.18h-1V101.33h-1V101.33h-1V101.22h-1V101.37h-1V101.09h-1V101.17h-1V101.04h-1V100.84h-1V101.13h-1V101.02h-1V101.05h-1V100.69h-1V101.34h-1V100.9h-1V100.22h-1V100.86h-1V101.39h-1V100.9h-1V100.49h-1V99.91h-1V101h-1V100.52h-1V101.4h-1V100.99h-1V101.29h-1V101.06h-1V100.07h-1V101.07h-1V101.32h-1V101.32h-1V101.39h-1V101.31h-1V101.05h-1V101.14h-1V101.21h-1V101.38h-1V100.49h-1V100.91h-1V100.69h-1V101.38h-1V101.21h-1V100.62h-1V100.75h-1V100.24h-1V101.28h-1V100.83h-1V100.88h-1V100.56h-1V101.34h-1V101.39h-1V101.39h-1V100.39h-1V101.1h-1V101.27h-1V101.03h-1V100.87h-1V101.3h-1V101.16h-1V101.32h-1V100.85h-1V100.9h-1V100.76h-1V100.87h-1V100.95h-1V100.43h-1V101.04h-1V101.06h-1V100.94h-1V101.34h-1V101.34h-1V100.63h-1V101.18h-1V101.34h-1V101.31h-1V101.11h-1V100.96h-1V101.33h-1V101h-1V101.22h-1V101.37h-1V101.26h-1V101.22h-1V101.36h-1V100.77h-1V101.39h-1V100.95h-1V101.36h-1V101.31h-1V101.35h-1V101.32h-1ZM447.6 57.3h1.4V101.4h-1.4ZM477.1 51.5h1.4V101.4h-1.4ZM479.3 54.8h1.4V101.4h-1.4ZM507.2 46.4h1.4V101.4h-1.4ZM526.8 35.9h1.4V101.4h-1.4ZM533.8 44.2h1.4V101.4h-1.4ZM398.2 86h1.4V101.4h-1.4ZM408.3 72.2h1.4V101.4h-1.4ZM420.6 70.3h1.4V101.4h-1.4ZM424.7 72.5h1.4V101.4h-1.4Z"/>
</g>
<rect x="389" y="10.3" width="155.6" height="94.9" fill="none" stroke="#2a2a2a" stroke-width="1"/>
<text x="385.7" y="102.95" font-size="4.3" text-anchor="end" class="t">0</text>
<text x="385.7" y="82.42" font-size="4.3" text-anchor="end" class="t">200</text>
<text x="385.7" y="61.9" font-size="4.3" text-anchor="end" class="t">400</text>
<text x="385.7" y="41.37" font-size="4.3" text-anchor="end" class="t">600</text>
<text x="385.7" y="20.85" font-size="4.3" text-anchor="end" class="t">800</text>
<text x="396" y="111.1" font-size="4.3" text-anchor="middle" class="t">0</text>
<text x="415.66" y="111.1" font-size="4.3" text-anchor="middle" class="t">250</text>
<text x="435.31" y="111.1" font-size="4.3" text-anchor="middle" class="t">500</text>
<text x="454.97" y="111.1" font-size="4.3" text-anchor="middle" class="t">750</text>
<text x="474.63" y="111.1" font-size="4.3" text-anchor="middle" class="t">1000</text>
<text x="494.29" y="111.1" font-size="4.3" text-anchor="middle" class="t">1250</text>
<text x="513.94" y="111.1" font-size="4.3" text-anchor="middle" class="t">1500</text>
<text x="533.6" y="111.1" font-size="4.3" text-anchor="middle" class="t">1750</text>
<path stroke="#222" stroke-width="0.7" d="M389 101.4h-1.8M389 80.88h-1.8M389 60.35h-1.8M389 39.82h-1.8M389 19.3h-1.8M396 105.2v1.8M415.66 105.2v1.8M435.31 105.2v1.8M454.97 105.2v1.8M474.63 105.2v1.8M494.29 105.2v1.8M513.94 105.2v1.8M533.6 105.2v1.8"/>
<text x="466.8" y="8" font-size="4.55" text-anchor="middle" class="h" font-weight="bold">Steps</text>
<text x="466.8" y="115.4" font-size="4.2" text-anchor="middle" class="t">Episode</text>
<text x="373.3" y="57.75" font-size="3.7" text-anchor="middle" class="t" transform="rotate(-90 373.3 57.75)" dy="1.3">Steps</text>
<rect x="390.4" y="12.4" width="29.7" height="15.4" rx="0.6" fill="#fff" fill-opacity="0.8" stroke="#e4e4e4" stroke-width="0.4"/>
<path stroke="#d65f62" stroke-width="1.1" stroke-opacity="0.85" d="M392.2 15H401.8"/>
<text x="405.3" y="16.45" font-size="3.9" text-anchor="start" class="t" font-weight="bold">steps1</text>
<path stroke="#f8901c" stroke-width="1.1" stroke-opacity="0.85" d="M392.2 20H401.8"/>
<text x="405.3" y="21.45" font-size="3.9" text-anchor="start" class="t" font-weight="bold">steps2</text>
<path stroke="#24b2aa" stroke-width="1.1" stroke-opacity="0.85" d="M392.2 25.2H401.8"/>
<text x="405.3" y="26.65" font-size="3.9" text-anchor="start" class="t" font-weight="bold">steps3</text>
<text x="459.6" y="125.8" font-size="8.6" text-anchor="middle" class="lab">3-2</text>
<g clip-path="url(#c3)">
<path fill="#d65f62" d="M29 221.83V212h1V210.74h1V210.74h1V208.05h1V214.61h1V212.73h1V213.03h1V213.03h1V192.77h1V205.52h1V209.71h1V207.29h1V203.32h1V203.83h1V203.83h1V186.09h1V205.21h1V192.5h1V202.79h1V201.53h1V191.77h1V191.54h1V187.39h1V196.25h1V181.07h1V205.45h1V203.36h1V184.29h1V192.98h1V194.67h1V200.72h1V200.04h1V201.32h1V206.68h1V200.76h1V172.5h1V188.98h1V191.32h1V198.81h1V192.2h1V195.66h1V179.7h1V179.7h1V188.61h1V188.18h1V179.38h1V192.48h1V196.13h1V201.36h1V185.21h1V208.16h1V202.38h1V178.61h1V197.67h1V210.59h1V198.86h1V185.73h1V205.3h1V204.58h1V191.32h1V183.12h1V197.8h1V194.87h1V177.82h1V202.34h1V200.99h1V207.78h1V185.86h1V197.03h1V200.89h1V199.65h1V199.65h1V202.41h1V184.95h1V178.64h1V178.64h1V186.65h1V197.64h1V193.29h1V198.26h1V197.71h1V204.85h1V173.6h1V199.2h1V195.65h1V195.65h1V186.26h1V192.86h1V199.36h1V202.32h1V197.16h1V201.24h1V195.49h1V196.83h1V202.85h1V187.98h1V197.18h1V194.22h1V178.87h1V188.15h1V195.72h1V197.17h1V178.11h1V189h1V194.36h1V189.17h1V176.98h1V187.6h1V200.25h1V195.77h1V199.95h1V199.95h1V167.83h1V188.57h1V203.59h1V203.59h1V190.9h1V186.21h1V186.21h1V197.75h1V197.72h1V197.59h1V196.55h1V177.79h1V187.35h1V185.17h1V189.77h1V197.56h1V190.59h1V190.59h1V204.3h1V190.02h1V190.02h1V215.6h1V214.26h1V208.18h1V209.99h1V215.74h1V210.9h1V216.95h1V212.51h1V210.42h1V222.01h-1V221.76h-1V221.78h-1V222.05h-1V221.89h-1V222.18h-1V221.81h-1V222.18h-1V222.19h-1V221.24h-1V221.53h-1V222.02h-1V221.8h-1V221.65h-1V222.07h-1V221.35h-1V221.55h-1V221.55h-1V220.26h-1V221.16h-1V221.71h-1V221.96h-1V221.97h-1V221.18h-1V221.18h-1V221.41h-1V222h-1V222.18h-1V221.52h-1V220.52h-1V221.93h-1V221.64h-1V221.47h-1V220.77h-1V221.16h-1V221.84h-1V221.51h-1V222.15h-1V220.13h-1V221.52h-1V221.57h-1V221.89h-1V221.88h-1V221.65h-1V221.7h-1V220.92h-1V221.7h-1V220.59h-1V222.17h-1V222.17h-1V221.72h-1V221.72h-1V221.88h-1V221.74h-1V221.87h-1V221.73h-1V222.16h-1V221.91h-1V221.98h-1V221.93h-1V221.31h-1V219.69h-1V221.59h-1V222.19h-1V222.2h-1V221.69h-1V221.87h-1V222.16h-1V222.13h-1V221.53h-1V222.15h-1V221.77h-1V221.65h-1V221.78h-1V220.99h-1V221.51h-1V221.64h-1V220.76h-1V221.66h-1V221.46h-1V220.77h-1V222.01h-1V222.16h-1V221.9h-1V221.9h-1V221.11h-1V220.84h-1V220.5h-1V221.73h-1V222.11h-1V221.79h-1V222.07h-1V219.73h-1V221.3h-1V221.97h-1V220.31h-1V221.72h-1V221.72h-1V221.56h-1V221.38h-1V221.23h-1V221.11h-1V221.94h-1V221.89h-1V221.45h-1V221.24h-1V218.6h-1V221.74h-1V221.8h-1V221.84h-1V220.54h-1V222.11h-1V221.84h-1V222.06h-1V221.97h-1V221.01h-1V221.39h-1V221.39h-1V221.57h-1V221.29h-1V221.76h-1V222.1h-1V221.92h-1V221.44h-1V221.77h-1V221.91h-1V221.54h-1V221.52h-1V222.13h-1V222.07h-1V221.85h-1V222.08h-1V222.16h-1V221.61h-1V221.19h-1V221.65h-1V221.85h-1V221.76h-1V221.79h-1V222.19h-1V222.16h-1V221.83h-1ZM43.1 172.1h1.4V222.2h-1.4ZM48.2 175.5h1.4V222.2h-1.4ZM51.8 174h1.4V222.2h-1.4ZM57.7 172.5h1.4V222.2h-1.4ZM63.5 174h1.4V222.2h-1.4ZM65.7 174.7h1.4V222.2h-1.4ZM72.2 173.3h1.4V222.2h-1.4ZM90 171.8h1.4V222.2h-1.4ZM109.7 154.1h1.4V222.2h-1.4ZM118.8 166.7h1.4V222.2h-1.4ZM122.8 171.1h1.4V222.2h-1.4ZM125.7 148.3h1.4V222.2h-1.4ZM127.1 160.9h1.4V222.2h-1.4ZM133.7 137.6h1.4V222.2h-1.4ZM143.6 151.2h1.4V222.2h-1.4ZM166.8 180.8h1.4V222.2h-1.4ZM168.6 210.2h1.4V222.2h-1.4ZM162.8 203h1.4V222.2h-1.4ZM31.5 197h1.4V222.2h-1.4ZM34.1 195h1.4V222.2h-1.4ZM38 189h1.4V222.2h-1.4Z"/>
<path fill="#f8901c" d="M29 222.18V216.08h1V209.76h1V208.94h1V210.67h1V198.96h1V210.27h1V209.59h1V197.76h1V199.34h1V207.59h1V198.93h1V207h1V209.18h1V203.72h1V206.23h1V209.49h1V190.16h1V198.92h1V196.42h1V207.43h1V207.08h1V197.89h1V198.98h1V198.98h1V186.35h1V202.79h1V211.94h1V195.93h1V209.31h1V196.02h1V197.67h1V187.02h1V202.66h1V202.66h1V198.76h1V208.75h1V205.89h1V202.72h1V208.15h1V204.3h1V202.12h1V202.12h1V199.14h1V186.79h1V204.37h1V203.31h1V208.49h1V206.24h1V204h1V202.19h1V204.07h1V192.63h1V187.16h1V194.63h1V193.84h1V186.15h1V198.85h1V188.55h1V173.95h1V173.95h1V191.04h1V189.41h1V183.72h1V184.49h1V197.7h1V197.7h1V204.04h1V200.28h1V192.23h1V201h1V202.93h1V187.26h1V187.26h1V202.99h1V189.96h1V197.29h1V202.44h1V201.32h1V193.95h1V187.91h1V187.91h1V197.11h1V191.71h1V191.71h1V186.3h1V195.64h1V195.64h1V198.05h1V194.71h1V180.97h1V199.67h1V187.05h1V193.84h1V201.85h1V200.99h1V181.61h1V181.61h1V176.74h1V176.74h1V195.28h1V194.78h1V199.43h1V195.17h1V174.05h1V174.05h1V203.13h1V183.21h1V201.8h1V188.22h1V197.53h1V202.27h1V193.64h1V196.39h1V200.4h1V192.51h1V189.83h1V201.33h1V189.01h1V196.61h1V191.74h1V203.2h1V178.48h1V204.31h1V184.48h1V205.95h1V193.28h1V205.7h1V200.15h1V186.03h1V197.24h1V193.96h1V206.09h1V207.05h1V216.16h1V215.3h1V217.2h1V219.79h1V216.62h1V218.84h1V217.87h1V217.08h1V216.38h1V222.03h-1V222.03h-1V221.8h-1V222.16h-1V222.17h-1V222.17h-1V222.03h-1V221.79h-1V222.06h-1V221.86h-1V221.54h-1V220.68h-1V222.03h-1V222.03h-1V221.95h-1V222.13h-1V222.13h-1V221.25h-1V221.95h-1V221.77h-1V221.87h-1V222.19h-1V222.07h-1V221.95h-1V220.23h-1V221.9h-1V221.9h-1V221.27h-1V222.11h-1V222.11h-1V221.95h-1V222.03h-1V222.18h-1V222.14h-1V222.14h-1V222.15h-1V222.03h-1V221.22h-1V222.16h-1V222.12h-1V221.72h-1V221.31h-1V221.23h-1V221.99h-1V221.14h-1V220h-1V222.07h-1V221.36h-1V221.22h-1V221.78h-1V220.85h-1V221.7h-1V222.16h-1V222.16h-1V221.92h-1V221.92h-1V221.93h-1V221.12h-1V221.75h-1V222.11h-1V222.11h-1V220.67h-1V222.14h-1V222.18h-1V222.08h-1V221.1h-1V218.81h-1V220.74h-1V222.05h-1V220.97h-1V221.94h-1V221.94h-1V222.18h-1V222.18h-1V220.63h-1V221.95h-1V221.25h-1V221.55h-1V221.81h-1V221.13h-1V222.08h-1V221.93h-1V221.7h-1V222.15h-1V221.45h-1V221.41h-1V222.18h-1V222.18h-1V221.73h-1V222.17h-1V221.7h-1V221.82h-1V221.78h-1V221.43h-1V222.11h-1V221.63h-1V221.68h-1V221.91h-1V222.05h-1V221.95h-1V221.76h-1V221.76h-1V221.9h-1V221.78h-1V222.06h-1V222.14h-1V221.56h-1V221.76h-1V221.73h-1V222.05h-1V222.05h-1V221.99h-1V222.1h-1V222.11h-1V221.29h-1V221.68h-1V222.16h-1V220.47h-1V222.18h-1V222.19h-1V222.14h-1V221.85h-1V222.16h-1V221.95h-1V221.78h-1V221.99h-1V221.54h-1V222.18h-1V222.15h-1V222.14h-1V221.37h-1V222.04h-1V222.08h-1V222.19h-1V221.77h-1V222.02h-1V221.63h-1V222.17h-1V222.17h-1V221.68h-1V222.13h-1V222.18h-1ZM53.3 161.3h1.4V222.2h-1.4ZM74.4 176.9h1.4V222.2h-1.4ZM77.7 168.2h1.4V222.2h-1.4ZM83.8 166.7h1.4V222.2h-1.4ZM88.6 165.7h1.4V222.2h-1.4ZM94.8 168.2h1.4V222.2h-1.4ZM103.1 174.7h1.4V222.2h-1.4ZM110.4 179h1.4V222.2h-1.4ZM121.3 176.9h1.4V222.2h-1.4ZM35.8 200h1.4V222.2h-1.4Z"/>
<path fill="#24b2aa" d="M29 222.09V215.51h1V216.8h1V215.92h1V218.02h1V217.55h1V213.68h1V214.3h1V209.71h1V209.44h1V210.58h1V213.7h1V214.65h1V214.41h1V213.29h1V208.93h1V203.35h1V209.3h1V210.93h1V210.26h1V209.79h1V209.79h1V207.63h1V211.22h1V211.22h1V205.91h1V204.99h1V200.08h1V200.08h1V212.73h1V197.8h1V207.28h1V194.14h1V212.07h1V191.12h1V212.29h1V203.01h1V207.12h1V193.87h1V205.87h1V190.56h1V190.56h1V206.14h1V198.12h1V205.49h1V201.01h1V201.65h1V202.37h1V213.07h1V195.84h1V182.03h1V195.45h1V207.19h1V199.03h1V198.04h1V200.6h1V205.83h1V213.97h1V207.84h1V205.59h1V201.16h1V194.02h1V191.81h1V196.12h1V192.75h1V208.01h1V200.39h1V184.36h1V208.63h1V197.34h1V198.05h1V180.34h1V188.31h1V191.94h1V179.63h1V180.4h1V198.84h1V202.75h1V193.97h1V192.01h1V197.84h1V178.71h1V202.56h1V197.79h1V189.85h1V192.68h1V184.51h1V190.36h1V209.8h1V189.16h1V163.66h1V182.43h1V208.72h1V174.43h1V197.48h1V201.03h1V185.59h1V197.78h1V188.12h1V195.52h1V202.55h1V166.94h1V166.94h1V180.4h1V180.4h1V196.77h1V206.72h1V190.28h1V179.06h1V175.37h1V177.03h1V187.29h1V164.11h1V164.11h1V208.35h1V165.88h1V172.72h1V172.72h1V178.57h1V188.37h1V182.7h1V199.85h1V195.85h1V206.34h1V191.81h1V179.76h1V174.88h1V200.82h1V187.45h1V190.43h1V194.61h1V198.73h1V207.16h1V210.61h1V211.59h1V212.5h1V211.84h1V213.77h1V213.05h1V213.72h1V213.24h1V212.21h1V211.52h1V216.52h-1V216.52h-1V216.47h-1V216.54h-1V216.22h-1V216.54h-1V216.55h-1V216.52h-1V218h-1V222.03h-1V221.31h-1V221.92h-1V222.11h-1V222.15h-1V221.99h-1V222.08h-1V222.18h-1V219.65h-1V221.45h-1V222.12h-1V222.09h-1V222.14h-1V222.14h-1V220.99h-1V222.05h-1V222.05h-1V221.32h-1V221.01h-1V221.59h-1V221.76h-1V221.11h-1V221.88h-1V221.96h-1V221.05h-1V221.96h-1V221.57h-1V222.17h-1V221.86h-1V220.42h-1V221.65h-1V221.92h-1V222.19h-1V221.9h-1V221.73h-1V221.73h-1V222.07h-1V222.14h-1V220.28h-1V221.51h-1V221.9h-1V221.9h-1V222.14h-1V222.13h-1V222.13h-1V220.92h-1V221.99h-1V221.96h-1V221.21h-1V221.75h-1V222.17h-1V221.86h-1V222h-1V220.93h-1V222.17h-1V221.97h-1V221.7h-1V221.86h-1V220.92h-1V221.17h-1V222.03h-1V221.77h-1V221.87h-1V221.06h-1V221.69h-1V221.74h-1V221.74h-1V221.6h-1V222.18h-1V222.18h-1V221.57h-1V221.75h-1V221.88h-1V222.08h-1V222.14h-1V222.07h-1V222.06h-1V221.81h-1V221.42h-1V218.64h-1V221.57h-1V222.01h-1V222.07h-1V221.82h-1V222.17h-1V221.24h-1V222.02h-1V221.97h-1V222.14h-1V221.34h-1V222.2h-1V222.11h-1V221.96h-1V222.15h-1V222.15h-1V221.59h-1V222.02h-1V222.08h-1V222.08h-1V221.42h-1V222.11h-1V222.13h-1V222.05h-1V222.01h-1V222.18h-1V222.16h-1V222.09h-1V222.12h-1V221.75h-1V221.75h-1V221.91h-1V221.68h-1V222.01h-1V221.81h-1V222.01h-1V222.18h-1V222.08h-1V222.13h-1V222.02h-1V221.84h-1V222.13h-1V221.95h-1V222.02h-1V221.3h-1V222.15h-1V221.74h-1V222.1h-1V222.11h-1V222.13h-1V222.19h-1V221.89h-1V222.03h-1V222.09h-1ZM59.8 179.1h1.4V222.2h-1.4ZM69.7 160.9h1.4V222.2h-1.4ZM87.5 179h1.4V222.2h-1.4ZM95.9 153.6h1.4V222.2h-1.4ZM99.8 162.4h1.4V222.2h-1.4ZM97.7 172.5h1.4V222.2h-1.4ZM99.9 161.9h1.4V222.2h-1.4ZM105.3 168.6h1.4V222.2h-1.4ZM113.3 159h1.4V222.2h-1.4ZM117.2 156.5h1.4V222.2h-1.4ZM120.3 168.9h1.4V222.2h-1.4ZM130.8 163.8h1.4V222.2h-1.4ZM132.2 149.7h1.4V222.2h-1.4ZM137.3 155.1h1.4V222.2h-1.4ZM139.5 167.5h1.4V222.2h-1.4ZM146.8 165.3h1.4V222.2h-1.4ZM150.8 173h1.4V222.2h-1.4ZM153.7 169.2h1.4V222.2h-1.4ZM157.7 180.3h1.4V222.2h-1.4ZM160.1 183.2h1.4V222.2h-1.4Z"/>
</g>
<rect x="22.5" y="133.9" width="155.1" height="91.9" fill="none" stroke="#2a2a2a" stroke-width="1"/>
<text x="19.2" y="223.75" font-size="4.3" text-anchor="end" class="t">0</text>
<text x="19.2" y="207.61" font-size="4.3" text-anchor="end" class="t">100</text>
<text x="19.2" y="191.47" font-size="4.3" text-anchor="end" class="t">200</text>
<text x="19.2" y="175.33" font-size="4.3" text-anchor="end" class="t">300</text>
<text x="19.2" y="159.19" font-size="4.3" text-anchor="end" class="t">400</text>
<text x="19.2" y="143.05" font-size="4.3" text-anchor="end" class="t">500</text>
<text x="29" y="231.7" font-size="4.3" text-anchor="middle" class="t">0</text>
<text x="48.69" y="231.7" font-size="4.3" text-anchor="middle" class="t">250</text>
<text x="68.37" y="231.7" font-size="4.3" text-anchor="middle" class="t">500</text>
<text x="88.06" y="231.7" font-size="4.3" text-anchor="middle" class="t">750</text>
<text x="107.74" y="231.7" font-size="4.3" text-anchor="middle" class="t">1000</text>
<text x="127.43" y="231.7" font-size="4.3" text-anchor="middle" class="t">1250</text>
<text x="147.11" y="231.7" font-size="4.3" text-anchor="middle" class="t">1500</text>
<text x="166.8" y="231.7" font-size="4.3" text-anchor="middle" class="t">1750</text>
<path stroke="#222" stroke-width="0.7" d="M22.5 222.2h-1.8M22.5 206.06h-1.8M22.5 189.92h-1.8M22.5 173.78h-1.8M22.5 157.64h-1.8M22.5 141.5h-1.8M29 225.8v1.8M48.69 225.8v1.8M68.37 225.8v1.8M88.06 225.8v1.8M107.74 225.8v1.8M127.43 225.8v1.8M147.11 225.8v1.8M166.8 225.8v1.8"/>
<text x="100.05" y="131.6" font-size="4.55" text-anchor="middle" class="h" font-weight="bold">Steps</text>
<text x="100.05" y="236" font-size="4.2" text-anchor="middle" class="t">Episode</text>
<text x="6.8" y="179.85" font-size="3.7" text-anchor="middle" class="t" transform="rotate(-90 6.8 179.85)" dy="1.3">Steps</text>
<rect x="144.6" y="135.9" width="29.2" height="14.9" rx="0.6" fill="#fff" fill-opacity="0.8" stroke="#e4e4e4" stroke-width="0.4"/>
<path stroke="#d65f62" stroke-width="1.1" stroke-opacity="0.85" d="M146.4 138.5H155.7"/>
<text x="159" y="139.95" font-size="3.9" text-anchor="start" class="t" font-weight="bold">steps1</text>
<path stroke="#f8901c" stroke-width="1.1" stroke-opacity="0.85" d="M146.4 143.3H155.7"/>
<text x="159" y="144.75" font-size="3.9" text-anchor="start" class="t" font-weight="bold">steps2</text>
<path stroke="#24b2aa" stroke-width="1.1" stroke-opacity="0.85" d="M146.4 148.2H155.7"/>
<text x="159" y="149.65" font-size="3.9" text-anchor="start" class="t" font-weight="bold">steps3</text>
<text x="92" y="246.6" font-size="8.6" text-anchor="middle" class="lab">1-3</text>
<g clip-path="url(#c4)">
<path fill="#d65f62" d="M213.6 221.73V212.88h1V210.96h1V205.78h1V197.42h1V191.26h1V196.44h1V196.75h1V202.94h1V204.16h1V207.87h1V200.83h1V195.89h1V191.81h1V197.98h1V188.19h1V196.56h1V188.37h1V188.37h1V197.69h1V204.4h1V204.4h1V208.59h1V202.25h1V200.19h1V195.68h1V204.32h1V201.83h1V189.86h1V172.05h1V197.2h1V197.9h1V202.34h1V204.61h1V199.18h1V199.18h1V187.74h1V194.75h1V198.07h1V200.76h1V191.12h1V198.34h1V190.44h1V175.88h1V175.88h1V174.94h1V169.81h1V186.04h1V174.72h1V189.54h1V192.85h1V193.37h1V204.08h1V204.08h1V199.84h1V183.7h1V180.65h1V192.24h1V191.34h1V191.3h1V188.25h1V194.01h1V193.41h1V193.41h1V192.24h1V183.86h1V196.69h1V191.37h1V196.1h1V192.48h1V192.48h1V199.68h1V184.86h1V179.24h1V183h1V182.18h1V194.3h1V193.15h1V193.86h1V193.18h1V194.2h1V189.69h1V190.42h1V203.6h1V197.03h1V198.41h1V182.48h1V185.51h1V185.97h1V172.83h1V196.67h1V188.89h1V184.19h1V191.2h1V191.2h1V185.78h1V190.15h1V196.79h1V181.81h1V193.74h1V200.32h1V176.25h1V200.45h1V199.44h1V185.9h1V185.9h1V198.96h1V180.79h1V167h1V188.63h1V188.69h1V191.26h1V191.26h1V186.84h1V187.77h1V186.63h1V179.12h1V179.12h1V192.63h1V190.3h1V202.31h1V192.8h1V196.68h1V194.01h1V191.08h1V193.21h1V206.29h1V198.07h1V178.54h1V178.54h1V191.39h1V191.06h1V185.9h1V185.9h1V199.36h1V199.36h1V195.34h1V181.2h1V201.24h1V221.54h-1V221.52h-1V219.77h-1V221.72h-1V221.8h-1V221.25h-1V221.76h-1V221.49h-1V220.87h-1V221.82h-1V221.27h-1V221.5h-1V221.5h-1V221.27h-1V221.81h-1V220.98h-1V220.3h-1V220.91h-1V221.25h-1V221.82h-1V220.73h-1V221.69h-1V221.56h-1V220.86h-1V221.66h-1V221.42h-1V221.57h-1V221.16h-1V221.31h-1V221.48h-1V221.72h-1V221.84h-1V221.28h-1V221.48h-1V220.97h-1V221.55h-1V220.77h-1V221.59h-1V221.26h-1V221.72h-1V221.68h-1V221.35h-1V221.51h-1V221.51h-1V221.52h-1V218.24h-1V221.85h-1V221.89h-1V221.4h-1V220.65h-1V220.24h-1V220.44h-1V221.33h-1V221.58h-1V221.32h-1V221.59h-1V219.97h-1V220.64h-1V221.47h-1V220.85h-1V221.42h-1V220.73h-1V220.24h-1V221.51h-1V221.69h-1V221.9h-1V221.68h-1V221.72h-1V221.11h-1V221.31h-1V221.25h-1V219.36h-1V221.66h-1V221.69h-1V221.66h-1V220.61h-1V221.82h-1V221.74h-1V221.78h-1V221.78h-1V221.73h-1V221.12h-1V221.7h-1V221.21h-1V221.46h-1V221.71h-1V221.36h-1V221.34h-1V221.78h-1V221.03h-1V221.14h-1V220.6h-1V221.57h-1V221.22h-1V221.22h-1V221.54h-1V221.54h-1V220.94h-1V221.82h-1V221.7h-1V221.48h-1V221.81h-1V221.61h-1V221.07h-1V221.28h-1V221.19h-1V220.46h-1V221.44h-1V221.87h-1V221.82h-1V221.29h-1V221.77h-1V221.84h-1V221.88h-1V221.46h-1V221.74h-1V221.41h-1V221.76h-1V220.5h-1V221.8h-1V221.48h-1V221.46h-1V221.56h-1V221.61h-1V221.82h-1V221.68h-1V221.85h-1V221.53h-1V221.53h-1V221.49h-1V221.49h-1V221.14h-1V220.69h-1V220.48h-1V221.33h-1V221.62h-1V221.62h-1V221.73h-1ZM221.6 171.1h1.4V221.9h-1.4ZM229.3 175h1.4V221.9h-1.4ZM231.9 174.7h1.4V221.9h-1.4ZM239 176.9h1.4V221.9h-1.4ZM242.8 182h1.4V221.9h-1.4ZM253.7 169.3h1.4V221.9h-1.4ZM272.6 170.4h1.4V221.9h-1.4ZM281.7 161.6h1.4V221.9h-1.4ZM283.1 143.5h1.4V221.9h-1.4ZM302.9 164.5h1.4V221.9h-1.4ZM304.8 167.7h1.4V221.9h-1.4ZM306.6 166.7h1.4V221.9h-1.4ZM310.1 170.1h1.4V221.9h-1.4ZM320.3 154.4h1.4V221.9h-1.4ZM322.6 166h1.4V221.9h-1.4ZM328 166h1.4V221.9h-1.4ZM329.8 163.8h1.4V221.9h-1.4ZM331.7 159.5h1.4V221.9h-1.4ZM333.1 165.3h1.4V221.9h-1.4ZM337.8 144.2h1.4V221.9h-1.4ZM341.8 138.1h1.4V221.9h-1.4ZM342.9 170.4h1.4V221.9h-1.4ZM346.5 181.3h1.4V221.9h-1.4Z"/>
<path fill="#f8901c" d="M213.6 221.74V212.98h1V203h1V206.03h1V208.66h1V198.4h1V197.36h1V197.36h1V196.79h1V191.34h1V191.34h1V201.66h1V199.79h1V189.21h1V189.21h1V201.37h1V188.18h1V189.39h1V200.95h1V191.19h1V191.19h1V184.75h1V184.75h1V187.27h1V200.27h1V190.76h1V199.16h1V180.73h1V193.73h1V193.73h1V185.2h1V204.81h1V204.3h1V187.61h1V189.59h1V199.28h1V199.38h1V202.35h1V196.69h1V198.07h1V202.18h1V199.75h1V187.85h1V186.36h1V186.36h1V188.27h1V197.05h1V197.05h1V193.47h1V197.51h1V200.72h1V204.6h1V194.19h1V194.19h1V190.89h1V190.89h1V203.49h1V187.21h1V195.97h1V201.88h1V182.1h1V193.68h1V193.68h1V195.99h1V198.42h1V191.76h1V179.3h1V171.78h1V183.8h1V173.22h1V193.01h1V194.53h1V190.76h1V194.34h1V182.52h1V189.58h1V195.09h1V181.14h1V186.41h1V198.55h1V172.17h1V189.25h1V202.06h1V180.37h1V194.03h1V190.12h1V192.93h1V201.72h1V175.1h1V199.26h1V181.75h1V199.89h1V193.7h1V200.84h1V168.53h1V168.53h1V192.95h1V192.85h1V192.85h1V187.76h1V200.27h1V191.55h1V191.55h1V202.93h1V182.47h1V208.7h1V197.15h1V189.95h1V189.95h1V170.4h1V195.66h1V189.32h1V193.66h1V204.91h1V189.07h1V177.03h1V185.7h1V190.94h1V195.18h1V172.78h1V198.46h1V205.74h1V180.3h1V179.16h1V179.16h1V187.32h1V196.66h1V184.58h1V191.12h1V191.12h1V197.37h1V202.04h1V195.51h1V190.86h1V201.04h1V203.86h1V191.93h1V188.67h1V206.66h1V221.69h-1V221.61h-1V219.71h-1V221.27h-1V221.39h-1V221.45h-1V221.1h-1V221.85h-1V221.28h-1V221.42h-1V221.85h-1V221.18h-1V221.4h-1V221.83h-1V221.53h-1V221.77h-1V221.77h-1V221.18h-1V221.61h-1V221.5h-1V221.8h-1V219.68h-1V220.56h-1V221.4h-1V221.39h-1V221.18h-1V221.51h-1V221.71h-1V221.74h-1V221.74h-1V221.21h-1V221.54h-1V221.6h-1V221.6h-1V221.27h-1V221.84h-1V221.61h-1V221.71h-1V221.71h-1V220.17h-1V221.19h-1V221.1h-1V221.84h-1V221.72h-1V221.15h-1V221.07h-1V221.85h-1V221.85h-1V220.26h-1V221.29h-1V221.86h-1V220.09h-1V221.66h-1V221.66h-1V220.93h-1V219.36h-1V221.24h-1V220.21h-1V221.66h-1V220.6h-1V221.32h-1V220.35h-1V221.32h-1V221.4h-1V221.47h-1V221.84h-1V219.38h-1V220.7h-1V221.61h-1V221.44h-1V220.3h-1V221.32h-1V221.54h-1V220.25h-1V220.54h-1V221.68h-1V221.64h-1V221.4h-1V221.82h-1V221.82h-1V221.21h-1V221.47h-1V221.47h-1V221.6h-1V221.59h-1V221.87h-1V219.42h-1V221.77h-1V221.77h-1V220.77h-1V220.95h-1V221.14h-1V221.33h-1V221.79h-1V221.58h-1V221.02h-1V221.62h-1V221.76h-1V220.26h-1V221.44h-1V221.44h-1V221.62h-1V221.89h-1V221.33h-1V221.14h-1V221.74h-1V221.73h-1V220.51h-1V221.82h-1V221.86h-1V221.86h-1V219.65h-1V220.01h-1V221.89h-1V221.72h-1V221.83h-1V221.83h-1V221.63h-1V221.81h-1V221.46h-1V221.79h-1V221.79h-1V221.47h-1V221.83h-1V220.7h-1V221.56h-1V221.65h-1V221.19h-1V220.61h-1V221.53h-1V221.29h-1V221.78h-1V221.34h-1V221.34h-1V220.86h-1V221.65h-1V221.74h-1V221.74h-1ZM224.9 172.1h1.4V221.9h-1.4ZM257.7 172.5h1.4V221.9h-1.4ZM260.3 178.4h1.4V221.9h-1.4ZM267.8 173.6h1.4V221.9h-1.4ZM277 155.8h1.4V221.9h-1.4ZM284.6 158.7h1.4V221.9h-1.4ZM293.1 171.8h1.4V221.9h-1.4ZM299.2 162.4h1.4V221.9h-1.4ZM314.9 171.1h1.4V221.9h-1.4ZM213.8 189h1.4V221.9h-1.4ZM215.3 190h1.4V221.9h-1.4Z"/>
<path fill="#24b2aa" d="M213.6 221.84V212.84h1V203.9h1V200.33h1V196.59h1V213.96h1V203.43h1V189.81h1V204.08h1V195.67h1V199.23h1V213.35h1V191.05h1V190.78h1V198.56h1V198.56h1V182.88h1V197.66h1V209.04h1V190.72h1V200.95h1V199.27h1V196.08h1V202.04h1V202.84h1V188.26h1V193.21h1V200.06h1V207.46h1V188.32h1V181.35h1V188.54h1V204.45h1V197.3h1V193.36h1V193.36h1V194.12h1V200.65h1V194.32h1V197.82h1V184.93h1V194.72h1V176.55h1V202.07h1V184.8h1V198.81h1V188.03h1V174.7h1V178.21h1V185.66h1V189.98h1V189.21h1V214.27h1V176.88h1V187.91h1V188.33h1V193.53h1V192.96h1V205.08h1V182.13h1V169.81h1V193.39h1V194.06h1V192.95h1V181.2h1V197.96h1V205.53h1V185.85h1V181.55h1V188.2h1V192.24h1V192.43h1V189.38h1V195.95h1V193.38h1V174.91h1V182.4h1V172.8h1V206.18h1V170.05h1V190.9h1V198.26h1V204.69h1V170.18h1V184.2h1V196.94h1V205.46h1V185.84h1V171.92h1V177.45h1V192.06h1V200.91h1V190.66h1V169.59h1V205.27h1V198.62h1V204.02h1V208.69h1V189.22h1V204.41h1V207.93h1V199.61h1V194.88h1V178.81h1V198.08h1V200.78h1V200.56h1V188.89h1V187.76h1V206.22h1V205.61h1V192.82h1V195.02h1V171.28h1V197.03h1V186.48h1V192.7h1V195.96h1V197.59h1V196.22h1V203.95h1V177.12h1V177.12h1V209.8h1V183.67h1V188.28h1V204.18h1V209.03h1V190.94h1V184.81h1V189.47h1V175.14h1V190.48h1V209.88h1V196.7h1V201.17h1V206.64h1V204.99h1V203.4h1V221.82h-1V221.72h-1V221.84h-1V221.35h-1V221.8h-1V221.81h-1V221.86h-1V221.86h-1V220.96h-1V221.02h-1V221.26h-1V221.61h-1V221.85h-1V221.63h-1V220.85h-1V221.25h-1V221.89h-1V221.13h-1V221.89h-1V221.87h-1V220.94h-1V221.46h-1V221.49h-1V221.45h-1V221.69h-1V221.53h-1V221.38h-1V221.6h-1V221.49h-1V221.68h-1V221.3h-1V221.78h-1V221.89h-1V220.37h-1V221.51h-1V221.61h-1V221.8h-1V221.86h-1V221.87h-1V221.73h-1V221.73h-1V221.67h-1V221.72h-1V221.4h-1V221.89h-1V221.75h-1V221.58h-1V221.74h-1V221.83h-1V221.59h-1V221.89h-1V221.89h-1V221.54h-1V221.88h-1V220.85h-1V221.89h-1V221.55h-1V221.45h-1V221.75h-1V220.84h-1V221.85h-1V221.85h-1V221.64h-1V221.87h-1V221.89h-1V221.81h-1V221.58h-1V221.87h-1V220.68h-1V221.73h-1V221.75h-1V221.8h-1V221.81h-1V221.87h-1V221.45h-1V221.77h-1V221.89h-1V221.86h-1V221.88h-1V221.79h-1V221.87h-1V221.81h-1V221.78h-1V221.89h-1V221.7h-1V221.7h-1V221.88h-1V220.89h-1V220.72h-1V221.85h-1V221.2h-1V221.82h-1V221.7h-1V221.41h-1V221.26h-1V221.87h-1V221.87h-1V221.86h-1V221.86h-1V221.23h-1V221.84h-1V221.83h-1V221.67h-1V221.73h-1V221.45h-1V221.49h-1V221.15h-1V221.36h-1V221.63h-1V221.89h-1V221.7h-1V221.51h-1V221.64h-1V221.87h-1V221.41h-1V221.41h-1V221.89h-1V221.85h-1V221.85h-1V220.96h-1V221.74h-1V221.9h-1V221.89h-1V221.89h-1V221.45h-1V221.73h-1V221.68h-1V221.68h-1V221.8h-1V221.73h-1V221.64h-1V221.76h-1V221.88h-1V221.21h-1V221.59h-1V221.59h-1V221.61h-1V221.84h-1ZM233.7 165.3h1.4V221.9h-1.4ZM237.3 159h1.4V221.9h-1.4ZM250.4 171.1h1.4V221.9h-1.4ZM255.5 171.8h1.4V221.9h-1.4ZM262.8 180.5h1.4V221.9h-1.4ZM264.9 180.3h1.4V221.9h-1.4ZM287.3 146.8h1.4V221.9h-1.4ZM288.8 154.4h1.4V221.9h-1.4ZM295.3 168.6h1.4V221.9h-1.4ZM308.4 164.5h1.4V221.9h-1.4ZM319.7 168.9h1.4V221.9h-1.4ZM330.9 170.4h1.4V221.9h-1.4Z"/>
</g>
<rect x="206.8" y="134" width="152.3" height="91.5" fill="none" stroke="#2a2a2a" stroke-width="1"/>
<text x="203.5" y="223.45" font-size="4.3" text-anchor="end" class="t">0</text>
<text x="203.5" y="204.78" font-size="4.3" text-anchor="end" class="t">100</text>
<text x="203.5" y="186.1" font-size="4.3" text-anchor="end" class="t">200</text>
<text x="203.5" y="167.43" font-size="4.3" text-anchor="end" class="t">300</text>
<text x="203.5" y="148.75" font-size="4.3" text-anchor="end" class="t">400</text>
<text x="213.6" y="231.4" font-size="4.3" text-anchor="middle" class="t">0</text>
<text x="232.83" y="231.4" font-size="4.3" text-anchor="middle" class="t">250</text>
<text x="252.06" y="231.4" font-size="4.3" text-anchor="middle" class="t">500</text>
<text x="271.29" y="231.4" font-size="4.3" text-anchor="middle" class="t">750</text>
<text x="290.51" y="231.4" font-size="4.3" text-anchor="middle" class="t">1000</text>
<text x="309.74" y="231.4" font-size="4.3" text-anchor="middle" class="t">1250</text>
<text x="328.97" y="231.4" font-size="4.3" text-anchor="middle" class="t">1500</text>
<text x="348.2" y="231.4" font-size="4.3" text-anchor="middle" class="t">1750</text>
<path stroke="#222" stroke-width="0.7" d="M206.8 221.9h-1.8M206.8 203.22h-1.8M206.8 184.55h-1.8M206.8 165.88h-1.8M206.8 147.2h-1.8M213.6 225.5v1.8M232.83 225.5v1.8M252.06 225.5v1.8M271.29 225.5v1.8M290.51 225.5v1.8M309.74 225.5v1.8M328.97 225.5v1.8M348.2 225.5v1.8"/>
<text x="282.95" y="131.7" font-size="4.55" text-anchor="middle" class="h" font-weight="bold">Steps</text>
<text x="282.95" y="235.7" font-size="4.2" text-anchor="middle" class="t">Episode</text>
<text x="191.1" y="179.75" font-size="3.7" text-anchor="middle" class="t" transform="rotate(-90 191.1 179.75)" dy="1.3">Steps</text>
<rect x="208.4" y="136" width="29.1" height="15" rx="0.6" fill="#fff" fill-opacity="0.8" stroke="#e4e4e4" stroke-width="0.4"/>
<path stroke="#d65f62" stroke-width="1.1" stroke-opacity="0.85" d="M210.2 138.6H219.5"/>
<text x="222.7" y="140.05" font-size="3.9" text-anchor="start" class="t" font-weight="bold">steps1</text>
<path stroke="#f8901c" stroke-width="1.1" stroke-opacity="0.85" d="M210.2 143.5H219.5"/>
<text x="222.7" y="144.95" font-size="3.9" text-anchor="start" class="t" font-weight="bold">steps2</text>
<path stroke="#24b2aa" stroke-width="1.1" stroke-opacity="0.85" d="M210.2 148.4H219.5"/>
<text x="222.7" y="149.85" font-size="3.9" text-anchor="start" class="t" font-weight="bold">steps3</text>
<text x="275.5" y="246.6" font-size="8.6" text-anchor="middle" class="lab">2-3</text>
<g clip-path="url(#c5)">
<path fill="#d65f62" d="M399.5 220.32V213.27h1V214.56h1V213.42h1V206.22h1V208.87h1V211.85h1V206.65h1V206.61h1V207.28h1V206.4h1V208.7h1V209.86h1V203.75h1V210.12h1V205.5h1V209.28h1V202.11h1V209.29h1V204.17h1V201.87h1V204.51h1V206.11h1V195.07h1V209.61h1V209.45h1V209.45h1V209.13h1V204.17h1V191.84h1V194.64h1V197.7h1V200.22h1V200.22h1V206.92h1V188.15h1V198.54h1V198.54h1V200.99h1V190.07h1V190.07h1V191.74h1V204.37h1V191.97h1V203.63h1V206.08h1V193.83h1V197.72h1V200.45h1V203.3h1V206.1h1V199.99h1V191.67h1V195.37h1V202.81h1V193.14h1V191.73h1V189.41h1V203.38h1V200.23h1V207.78h1V201.44h1V201.44h1V204.54h1V191.7h1V195h1V199.71h1V190.49h1V190.49h1V196.71h1V196.71h1V187.01h1V195.81h1V197.87h1V182.93h1V198.4h1V197.4h1V200.3h1V200.3h1V202.24h1V200.85h1V191.12h1V194.4h1V174.24h1V174.24h1V190.77h1V186.17h1V170.92h1V170.92h1V205.17h1V202.41h1V193.07h1V187.43h1V185.93h1V183.88h1V200.74h1V195.99h1V206.84h1V204.17h1V174.49h1V183.4h1V185.44h1V189.08h1V199.6h1V172.08h1V197.82h1V171.15h1V191.74h1V191.74h1V187.21h1V180.43h1V180.43h1V203.28h1V184.63h1V184.63h1V187.63h1V189.56h1V170.52h1V184.01h1V203.16h1V181.58h1V194.62h1V195.8h1V188.17h1V199.42h1V196.3h1V198.66h1V201.72h1V200.51h1V199.92h1V177.22h1V167.07h1V203.1h1V186.56h1V204.23h1V190.53h1V219.42h-1V220.39h-1V219.74h-1V220.16h-1V219.89h-1V220.09h-1V220.09h-1V217.61h-1V217.61h-1V218.2h-1V220.31h-1V219.59h-1V218.43h-1V220.14h-1V220.17h-1V220.17h-1V219.71h-1V220.31h-1V218.99h-1V219.76h-1V219.79h-1V219.45h-1V219.39h-1V219.8h-1V220.24h-1V220.24h-1V220.09h-1V219.55h-1V219.26h-1V219.41h-1V220.34h-1V219.83h-1V220.23h-1V220.23h-1V218.91h-1V219.45h-1V219.52h-1V219.59h-1V219.01h-1V219.66h-1V219.81h-1V219.93h-1V219.67h-1V219.95h-1V218.94h-1V220.32h-1V220.32h-1V220.3h-1V220.14h-1V220.14h-1V219.32h-1V219.98h-1V219.5h-1V220.2h-1V219.68h-1V220.16h-1V220.35h-1V220.35h-1V220.3h-1V218.33h-1V219.95h-1V220.1h-1V219.89h-1V220.09h-1V220.09h-1V220.09h-1V220.3h-1V220.33h-1V219.6h-1V219.89h-1V219.54h-1V220.37h-1V219.92h-1V219.45h-1V218.79h-1V219.82h-1V220.33h-1V220.18h-1V219.74h-1V220.36h-1V219.59h-1V220.35h-1V220.39h-1V220.25h-1V220.15h-1V220.32h-1V220.06h-1V218.54h-1V220.22h-1V220.12h-1V220.05h-1V220.11h-1V220.11h-1V219.97h-1V220.23h-1V220.26h-1V220.39h-1V220.24h-1V220.23h-1V220.3h-1V219.04h-1V220.24h-1V219.56h-1V220.4h-1V220.4h-1V218.91h-1V220.1h-1V219.29h-1V220.31h-1V219.94h-1V220.25h-1V220.28h-1V220.3h-1V220.26h-1V220.3h-1V220.11h-1V220.25h-1V220.06h-1V219.41h-1V220.16h-1V220.38h-1V220.2h-1V220.08h-1V219.9h-1V220.17h-1V219.83h-1V220h-1V220.37h-1V219.9h-1V219.9h-1V220.35h-1V220.39h-1V220.32h-1V220.22h-1V220.32h-1ZM421.8 185.7h1.4V220.4h-1.4ZM426.2 179h1.4V220.4h-1.4ZM429.8 185.3h1.4V220.4h-1.4ZM450.6 170h1.4V220.4h-1.4ZM453.6 180.2h1.4V220.4h-1.4ZM455.3 180.5h1.4V220.4h-1.4ZM478.4 176.1h1.4V220.4h-1.4ZM493.7 176.1h1.4V220.4h-1.4ZM503.3 166.4h1.4V220.4h-1.4ZM516.2 148.2h1.4V220.4h-1.4ZM520.3 163.9h1.4V220.4h-1.4ZM522.2 169.3h1.4V220.4h-1.4ZM524.2 142.4h1.4V220.4h-1.4ZM532.7 177.3h1.4V220.4h-1.4Z"/>
<path fill="#f8901c" d="M399.5 220.13V213.85h1V213.16h1V203.18h1V203.18h1V215.03h1V205.19h1V209.69h1V206.9h1V209.24h1V211.85h1V213.67h1V205.96h1V205.96h1V208.93h1V207.32h1V190.54h1V203.1h1V203.56h1V198.41h1V197.43h1V203.8h1V203.8h1V198.9h1V191.8h1V194.37h1V203.05h1V197.33h1V197.78h1V198.15h1V199.87h1V179.22h1V199.79h1V198.46h1V195.67h1V207.55h1V198.07h1V190.25h1V191.89h1V183.62h1V189.36h1V197.74h1V196.95h1V193.91h1V199.87h1V178.12h1V197.48h1V192.32h1V180.24h1V190.84h1V193.47h1V196.84h1V200.49h1V203.87h1V190.62h1V196.82h1V206.25h1V198.89h1V198.89h1V173.03h1V189.38h1V168.38h1V168.38h1V187.43h1V187.43h1V188.23h1V180.01h1V186.43h1V184.71h1V192.5h1V192.5h1V195.17h1V195.44h1V184.75h1V169.51h1V173.35h1V188.65h1V189.56h1V202.17h1V199.18h1V189.91h1V189.12h1V195.95h1V196.09h1V203.75h1V205.55h1V199.49h1V199.63h1V201.14h1V194.56h1V194.56h1V198.19h1V190.12h1V207.04h1V195.07h1V203.36h1V195.99h1V203.26h1V189.03h1V197.12h1V194.5h1V186.83h1V199.26h1V185.05h1V185.05h1V201.95h1V199.35h1V200.72h1V197.49h1V192.64h1V195.34h1V195.62h1V195.62h1V193.96h1V194.44h1V204.64h1V190.86h1V200.55h1V202.85h1V190.82h1V202.54h1V204.62h1V207.74h1V194.56h1V194.81h1V195.38h1V193.16h1V207.48h1V208.76h1V202.76h1V204.44h1V191.57h1V191.57h1V189.11h1V195.86h1V198.59h1V220.09h-1V219.91h-1V219.57h-1V220.1h-1V220.1h-1V219.84h-1V219.65h-1V219.4h-1V220.37h-1V220.02h-1V220.11h-1V220.3h-1V220.36h-1V218.44h-1V219.56h-1V220.1h-1V220.1h-1V219.33h-1V220.14h-1V219.73h-1V220.38h-1V220.17h-1V219.28h-1V219.82h-1V220.04h-1V220.07h-1V219.3h-1V219.84h-1V219.77h-1V219.98h-1V220.33h-1V220.29h-1V219.92h-1V219.96h-1V219.96h-1V220.37h-1V220.38h-1V220.32h-1V220.32h-1V220.2h-1V219.9h-1V219.53h-1V220.06h-1V220.4h-1V220.4h-1V219.11h-1V219.73h-1V220.35h-1V220.06h-1V219.86h-1V220.09h-1V219.79h-1V219.91h-1V219.55h-1V218.83h-1V220.33h-1V220.33h-1V220.21h-1V219.26h-1V218.49h-1V219.88h-1V219.48h-1V219.94h-1V219.8h-1V219.9h-1V220.38h-1V219.64h-1V218.41h-1V219.25h-1V220.34h-1V218.57h-1V220.11h-1V218.36h-1V219.46h-1V220.3h-1V220.18h-1V219.91h-1V220.02h-1V220.02h-1V220.36h-1V219.87h-1V219.8h-1V220.1h-1V220.12h-1V219.94h-1V220.37h-1V220.36h-1V218.28h-1V220.3h-1V217.52h-1V219.46h-1V220.4h-1V220.29h-1V219.79h-1V220.35h-1V219.75h-1V219.92h-1V219.46h-1V220.16h-1V220.13h-1V220.13h-1V219.63h-1V220.38h-1V219.63h-1V220.12h-1V220.11h-1V219.58h-1V217.14h-1V219.39h-1V219.02h-1V219.89h-1V219.76h-1V220.39h-1V219.9h-1V220.34h-1V220.4h-1V220.4h-1V219.91h-1V219.9h-1V219.9h-1V220.26h-1V220.09h-1V220.39h-1V220.39h-1V219.95h-1V219.91h-1V220.24h-1V220.37h-1V220.37h-1V220.4h-1V220.36h-1V220.02h-1V220.08h-1V220.03h-1V220.13h-1ZM406.3 188.2h1.4V220.4h-1.4ZM416 188.9h1.4V220.4h-1.4ZM442.9 171.7h1.4V220.4h-1.4ZM445.8 161.6h1.4V220.4h-1.4ZM448.8 178h1.4V220.4h-1.4ZM465.5 177h1.4V220.4h-1.4ZM469.8 178.7h1.4V220.4h-1.4ZM465.8 177.3h1.4V220.4h-1.4ZM469 179h1.4V220.4h-1.4ZM475.2 183.1h1.4V220.4h-1.4ZM401.5 201.5h1.4V220.4h-1.4Z"/>
<path fill="#24b2aa" d="M399.5 220.39V216.03h1V214.9h1V212.78h1V211.41h1V210.51h1V214.98h1V210.48h1V214.37h1V213.75h1V211.52h1V209.7h1V214.77h1V209.58h1V206.19h1V205.18h1V212.79h1V207.99h1V212.66h1V194.36h1V196.64h1V204.39h1V207.49h1V199.73h1V192.42h1V210.05h1V210.26h1V205.95h1V201.73h1V196.2h1V196.2h1V201.76h1V199.96h1V188.28h1V188.28h1V201.29h1V192.37h1V192.37h1V199.79h1V204.77h1V190.7h1V184.62h1V192.71h1V204.06h1V204.52h1V196.17h1V196.17h1V191.45h1V200.02h1V197.38h1V207.65h1V206.98h1V198.68h1V213.59h1V198.22h1V192.57h1V188.26h1V192.45h1V208.61h1V192.24h1V202.14h1V196.5h1V204.62h1V192.25h1V206.77h1V187.11h1V187.11h1V186.26h1V203.1h1V205.58h1V194.25h1V198.27h1V188.84h1V186.04h1V192.56h1V185.55h1V205h1V205h1V173.2h1V173.2h1V204.81h1V168.36h1V186.51h1V200.24h1V195.27h1V182.65h1V191.94h1V168.06h1V192.48h1V175.7h1V194.11h1V190.09h1V173.98h1V180.28h1V175.12h1V186.84h1V184.05h1V191.87h1V160.95h1V178.56h1V189.67h1V185.03h1V185.25h1V187.84h1V195.6h1V206.63h1V160.14h1V187.43h1V176.1h1V179.1h1V188.31h1V194.19h1V194.38h1V183.82h1V183.7h1V184.64h1V180.16h1V189.66h1V195.17h1V171.07h1V185.57h1V192.26h1V195.57h1V187.13h1V197.52h1V175.29h1V181.9h1V194.49h1V201.63h1V178.52h1V162.66h1V162.66h1V198.93h1V174.16h1V174.16h1V191.38h1V219.89h-1V220.35h-1V219h-1V220.07h-1V219.01h-1V220.33h-1V220.03h-1V219.65h-1V220.34h-1V220.37h-1V218.51h-1V220.3h-1V218.79h-1V219.2h-1V220.02h-1V219.95h-1V219.73h-1V220.36h-1V220.36h-1V220.12h-1V219.48h-1V220h-1V220.35h-1V219.42h-1V220.38h-1V220.34h-1V219.88h-1V219.18h-1V220.27h-1V220.4h-1V220.09h-1V220.37h-1V219.97h-1V219.92h-1V217.99h-1V220.1h-1V220.37h-1V220.35h-1V220.07h-1V220.32h-1V219.83h-1V220.36h-1V220.25h-1V220.11h-1V220.23h-1V220.14h-1V220.36h-1V220.36h-1V220.4h-1V220.18h-1V220h-1V220.28h-1V219.88h-1V220.23h-1V220.28h-1V219.91h-1V220.36h-1V220.35h-1V219.73h-1V220.32h-1V220.19h-1V220.39h-1V219.8h-1V220.16h-1V220.13h-1V219.41h-1V219.75h-1V219.65h-1V219.65h-1V220.39h-1V219.97h-1V220.17h-1V220.1h-1V220.19h-1V220.36h-1V220.01h-1V219.68h-1V220.38h-1V220.15h-1V220.31h-1V220.39h-1V220.17h-1V220.27h-1V220.13h-1V219.05h-1V219.99h-1V219.15h-1V219.97h-1V220.31h-1V220.05h-1V219.97h-1V220.11h-1V220.39h-1V220.39h-1V220.02h-1V220.31h-1V220.31h-1V220.33h-1V220.32h-1V220.03h-1V220.4h-1V220.39h-1V219.08h-1V220.11h-1V220.21h-1V220.32h-1V220.4h-1V220.4h-1V220.2h-1V220.19h-1V220.28h-1V220.28h-1V219.87h-1V220.18h-1V220.31h-1V220.3h-1V220.4h-1V219.96h-1V220.11h-1V220.31h-1V219.94h-1V220.39h-1V220.12h-1V220.36h-1V220.4h-1V220.28h-1V220.35h-1V220.11h-1V220.4h-1V220.4h-1V220.4h-1V220.33h-1V220.38h-1V220.39h-1V220.39h-1ZM412.1 184.3h1.4V220.4h-1.4ZM459.7 171.5h1.4V220.4h-1.4ZM473.5 169.3h1.4V220.4h-1.4ZM486.1 184.5h1.4V220.4h-1.4ZM488.3 181.3h1.4V220.4h-1.4ZM490.5 164.5h1.4V220.4h-1.4ZM498.5 159.1h1.4V220.4h-1.4ZM502.4 160.5h1.4V220.4h-1.4ZM507.6 163.5h1.4V220.4h-1.4ZM511.1 163.9h1.4V220.4h-1.4ZM513.8 174.4h1.4V220.4h-1.4ZM517.8 171.5h1.4V220.4h-1.4ZM526.1 167.1h1.4V220.4h-1.4ZM530 160.5h1.4V220.4h-1.4ZM531.5 161.6h1.4V220.4h-1.4ZM403.7 203h1.4V220.4h-1.4ZM418.9 189.8h1.4V220.4h-1.4ZM428.3 188h1.4V220.4h-1.4Z"/>
</g>
<rect x="393.4" y="138.8" width="147.8" height="85.4" fill="none" stroke="#2a2a2a" stroke-width="1"/>
<text x="390.1" y="221.95" font-size="4.3" text-anchor="end" class="t">0</text>
<text x="390.1" y="206.95" font-size="4.3" text-anchor="end" class="t">100</text>
<text x="390.1" y="191.95" font-size="4.3" text-anchor="end" class="t">200</text>
<text x="390.1" y="176.95" font-size="4.3" text-anchor="end" class="t">300</text>
<text x="390.1" y="161.95" font-size="4.3" text-anchor="end" class="t">400</text>
<text x="390.1" y="146.95" font-size="4.3" text-anchor="end" class="t">500</text>
<text x="399.5" y="230.1" font-size="4.3" text-anchor="middle" class="t">0</text>
<text x="418.23" y="230.1" font-size="4.3" text-anchor="middle" class="t">250</text>
<text x="436.96" y="230.1" font-size="4.3" text-anchor="middle" class="t">500</text>
<text x="455.69" y="230.1" font-size="4.3" text-anchor="middle" class="t">750</text>
<text x="474.41" y="230.1" font-size="4.3" text-anchor="middle" class="t">1000</text>
<text x="493.14" y="230.1" font-size="4.3" text-anchor="middle" class="t">1250</text>
<text x="511.87" y="230.1" font-size="4.3" text-anchor="middle" class="t">1500</text>
<text x="530.6" y="230.1" font-size="4.3" text-anchor="middle" class="t">1750</text>
<path stroke="#222" stroke-width="0.7" d="M393.4 220.4h-1.8M393.4 205.4h-1.8M393.4 190.4h-1.8M393.4 175.4h-1.8M393.4 160.4h-1.8M393.4 145.4h-1.8M399.5 224.2v1.8M418.23 224.2v1.8M436.96 224.2v1.8M455.69 224.2v1.8M474.41 224.2v1.8M493.14 224.2v1.8M511.87 224.2v1.8M530.6 224.2v1.8"/>
<text x="467.3" y="136.5" font-size="4.55" text-anchor="middle" class="h" font-weight="bold">Steps</text>
<text x="467.3" y="234.4" font-size="4.2" text-anchor="middle" class="t">Episode</text>
<text x="377.7" y="181.5" font-size="3.7" text-anchor="middle" class="t" transform="rotate(-90 377.7 181.5)" dy="1.3">Steps</text>
<rect x="394.1" y="140.1" width="29.2" height="14.6" rx="0.6" fill="#fff" fill-opacity="0.8" stroke="#e4e4e4" stroke-width="0.4"/>
<path stroke="#d65f62" stroke-width="1.1" stroke-opacity="0.85" d="M395.9 142.7H405.5"/>
<text x="408.5" y="144.15" font-size="3.9" text-anchor="start" class="t" font-weight="bold">steps1</text>
<path stroke="#f8901c" stroke-width="1.1" stroke-opacity="0.85" d="M395.9 147.3H405.5"/>
<text x="408.5" y="148.75" font-size="3.9" text-anchor="start" class="t" font-weight="bold">steps2</text>
<path stroke="#24b2aa" stroke-width="1.1" stroke-opacity="0.85" d="M395.9 152.1H405.5"/>
<text x="408.5" y="153.55" font-size="3.9" text-anchor="start" class="t" font-weight="bold">steps3</text>
<text x="459.6" y="246.6" font-size="8.6" text-anchor="middle" class="lab">3-3</text>
<g clip-path="url(#c6)">
<path fill="#d65f62" d="M29.6 344.87V342.46h1V342.68h1V341.86h1V339.93h1V339.37h1V340.6h1V340.52h1V338.26h1V340.59h1V335.48h1V335.48h1V338.92h1V338.84h1V340.07h1V341.27h1V337.25h1V335.73h1V339.15h1V333.83h1V332.57h1V338.66h1V332.14h1V332.95h1V338.9h1V336.67h1V336.67h1V333.34h1V333.34h1V338.16h1V338.06h1V339.78h1V340.04h1V333.52h1V333.99h1V338.83h1V338.25h1V338.83h1V338.74h1V333.93h1V337.25h1V331.29h1V331.01h1V335.72h1V336.08h1V335.68h1V340.21h1V340.25h1V337.23h1V337.22h1V337.54h1V332.59h1V324.75h1V324.75h1V331.37h1V322.3h1V323.94h1V323.73h1V323.69h1V318.6h1V322.74h1V328.34h1V328.34h1V331.61h1V324.6h1V319.39h1V332.94h1V333.71h1V342.43h-1V342.87h-1V342.33h-1V343.09h-1V342.86h-1V343.05h-1V343.17h-1V342.51h-1V342.13h-1V343.3h-1V343.49h-1V343.37h-1V343.56h-1V343.63h-1V343.54h-1V343.72h-1V343.38h-1V343.86h-1V343.86h-1V343.84h-1V343.94h-1V344.03h-1V344.03h-1V344.06h-1V344.06h-1V344.05h-1V344.12h-1V344.07h-1V344.09h-1V344.17h-1V344.14h-1V344.16h-1V344.23h-1V344.26h-1V344.26h-1V344.22h-1V344.17h-1V344.24h-1V344.35h-1V344.3h-1V344.39h-1V344.39h-1V344.41h-1V344.41h-1V344.45h-1V344.41h-1V344.49h-1V344.5h-1V344.53h-1V344.54h-1V344.55h-1V344.55h-1V344.59h-1V344.57h-1V344.63h-1V344.67h-1V344.69h-1V344.68h-1V344.7h-1V344.73h-1V344.73h-1V344.77h-1V344.8h-1V344.71h-1V344.83h-1V344.84h-1V344.87h-1ZM32.6 331.2h1.4V345.1h-1.4ZM38.9 329h1.4V345.1h-1.4ZM41.9 328.6h1.4V345.1h-1.4ZM58 330h1.4V345.1h-1.4ZM77.7 277.5h1.4V345.1h-1.4ZM88.5 266.3h1.4V345.1h-1.4ZM89.7 287h1.4V345.1h-1.4ZM87.5 292.8h1.4V345.1h-1.4ZM91.8 292.8h1.4V345.1h-1.4Z"/>
<path fill="#f8901c" d="M29.6 344.88V342.94h1V339.81h1V339.81h1V337.93h1V341.45h1V337.58h1V337.34h1V332.45h1V341.21h1V335.85h1V339.95h1V341.09h1V337.42h1V337.35h1V338.44h1V332.52h1V335.67h1V333.79h1V334.09h1V339.36h1V339.36h1V339.95h1V340.88h1V340.47h1V334.29h1V338.6h1V334.42h1V339.95h1V334.45h1V338.37h1V335.19h1V337.43h1V337.16h1V333.23h1V332.27h1V332.27h1V339.75h1V339.77h1V333.65h1V336.44h1V337.72h1V338.22h1V331.69h1V336.44h1V338.83h1V337.62h1V339.31h1V340.32h1V337.33h1V328.28h1V328.28h1V338.25h1V333h1V327.79h1V329.54h1V334h1V330.91h1V322.28h1V304.29h1V304.29h1V320.55h1V341.31h-1V340.83h-1V340.89h-1V342.25h-1V343.94h-1V343.89h-1V344.02h-1V343.96h-1V343.96h-1V343.97h-1V343.99h-1V343.84h-1V344.01h-1V344.08h-1V344.08h-1V344.07h-1V344.11h-1V343.91h-1V344.12h-1V344.11h-1V344.13h-1V344.13h-1V344.13h-1V344.16h-1V344.08h-1V344.19h-1V344.19h-1V344.2h-1V344.06h-1V344h-1V344.22h-1V344.28h-1V344.29h-1V344.16h-1V344.27h-1V344.27h-1V344.33h-1V344.08h-1V344.42h-1V344.44h-1V344.44h-1V344.48h-1V344.39h-1V344.47h-1V344.51h-1V344.57h-1V344.57h-1V344.65h-1V344.65h-1V344.68h-1V344.66h-1V344.65h-1V344.65h-1V344.71h-1V344.73h-1V344.79h-1V344.81h-1V344.63h-1V344.89h-1V344.84h-1V344.88h-1ZM37 332.4h1.4V345.1h-1.4ZM45.9 314.6h1.4V345.1h-1.4ZM51.6 275.4h1.4V345.1h-1.4ZM54.2 329.3h1.4V345.1h-1.4ZM66.3 331h1.4V345.1h-1.4ZM80.9 259.1h1.4V345.1h-1.4ZM81.7 279h1.4V345.1h-1.4ZM86.5 303h1.4V345.1h-1.4Z"/>
<path fill="#24b2aa" d="M29.6 344.86V341.92h1V341.84h1V339.99h1V340.54h1V342.54h1V338.85h1V339.96h1V340.68h1V337.31h1V339.29h1V340.47h1V336.1h1V337.45h1V337.6h1V338.23h1V339.39h1V335.92h1V338.71h1V337.08h1V337.55h1V335.32h1V336.63h1V331.85h1V331.85h1V334.32h1V332.65h1V330.75h1V339.27h1V334.34h1V337.32h1V338.63h1V338.1h1V337.27h1V334.77h1V331.5h1V337.68h1V338.41h1V332.76h1V338.75h1V333.4h1V333.4h1V335.14h1V334.23h1V335.03h1V333.27h1V332.83h1V335.35h1V325.23h1V325.23h1V326.9h1V323.75h1V323.75h1V331.17h1V334.53h1V327.74h1V327.22h1V324.41h1V330.43h1V342.18h-1V342.18h-1V342.07h-1V342.09h-1V342.27h-1V342.14h-1V342.42h-1V342.48h-1V342.52h-1V342.58h-1V342.59h-1V342.66h-1V342.66h-1V342.7h-1V342.76h-1V342.71h-1V342.61h-1V342.9h-1V342.94h-1V342.97h-1V342.98h-1V343.05h-1V343.04h-1V342.85h-1V343.14h-1V343.19h-1V343.21h-1V343.11h-1V343.34h-1V343.25h-1V343.45h-1V343.55h-1V343.55h-1V342.98h-1V343.58h-1V343.73h-1V343.78h-1V343.77h-1V343.88h-1V343.88h-1V343.95h-1V343.95h-1V344.06h-1V344.07h-1V344.14h-1V344.25h-1V344.25h-1V344.2h-1V344.06h-1V344.43h-1V344.52h-1V344.52h-1V344.61h-1V344.67h-1V344.67h-1V344.66h-1V344.81h-1V344.86h-1ZM49.1 326h1.4V345.1h-1.4ZM68 319.4h1.4V345.1h-1.4ZM71.3 325.4h1.4V345.1h-1.4ZM71.7 325h1.4V345.1h-1.4ZM75.6 326h1.4V345.1h-1.4ZM79.2 284.8h1.4V345.1h-1.4ZM79.9 290h1.4V345.1h-1.4Z"/>
<path stroke="#24b2aa" stroke-width="1.1" d="M87.65 342.18H170.41"/>
</g>
<rect x="22.7" y="255.4" width="154.9" height="93.6" fill="none" stroke="#2a2a2a" stroke-width="1"/>
<text x="19.4" y="346.65" font-size="4.3" text-anchor="end" class="t">0</text>
<text x="19.4" y="332.03" font-size="4.3" text-anchor="end" class="t">200</text>
<text x="19.4" y="317.42" font-size="4.3" text-anchor="end" class="t">400</text>
<text x="19.4" y="302.8" font-size="4.3" text-anchor="end" class="t">600</text>
<text x="19.4" y="288.18" font-size="4.3" text-anchor="end" class="t">800</text>
<text x="19.4" y="273.57" font-size="4.3" text-anchor="end" class="t">1000</text>
<text x="19.4" y="258.95" font-size="4.3" text-anchor="end" class="t">1200</text>
<text x="29.6" y="354.9" font-size="4.3" text-anchor="middle" class="t">0</text>
<text x="49.16" y="354.9" font-size="4.3" text-anchor="middle" class="t">250</text>
<text x="68.71" y="354.9" font-size="4.3" text-anchor="middle" class="t">500</text>
<text x="88.27" y="354.9" font-size="4.3" text-anchor="middle" class="t">750</text>
<text x="107.83" y="354.9" font-size="4.3" text-anchor="middle" class="t">1000</text>
<text x="127.39" y="354.9" font-size="4.3" text-anchor="middle" class="t">1250</text>
<text x="146.94" y="354.9" font-size="4.3" text-anchor="middle" class="t">1500</text>
<text x="166.5" y="354.9" font-size="4.3" text-anchor="middle" class="t">1750</text>
<path stroke="#222" stroke-width="0.7" d="M22.7 345.1h-1.8M22.7 330.48h-1.8M22.7 315.87h-1.8M22.7 301.25h-1.8M22.7 286.63h-1.8M22.7 272.02h-1.8M22.7 257.4h-1.8M29.6 349v1.8M49.16 349v1.8M68.71 349v1.8M88.27 349v1.8M107.83 349v1.8M127.39 349v1.8M146.94 349v1.8M166.5 349v1.8"/>
<text x="100.15" y="253.1" font-size="4.55" text-anchor="middle" class="h" font-weight="bold">Steps</text>
<text x="100.15" y="359.2" font-size="4.2" text-anchor="middle" class="t">Episode</text>
<text x="4.4" y="302.2" font-size="3.7" text-anchor="middle" class="t" transform="rotate(-90 4.4 302.2)" dy="1.3">Steps</text>
<rect x="144.7" y="257.4" width="29" height="15.2" rx="0.6" fill="#fff" fill-opacity="0.8" stroke="#e4e4e4" stroke-width="0.4"/>
<path stroke="#d65f62" stroke-width="1.1" stroke-opacity="0.85" d="M146.5 260H155.9"/>
<text x="158.9" y="261.45" font-size="3.9" text-anchor="start" class="t" font-weight="bold">steps1</text>
<path stroke="#f8901c" stroke-width="1.1" stroke-opacity="0.85" d="M146.5 265.1H155.9"/>
<text x="158.9" y="266.55" font-size="3.9" text-anchor="start" class="t" font-weight="bold">steps2</text>
<path stroke="#24b2aa" stroke-width="1.1" stroke-opacity="0.85" d="M146.5 270H155.9"/>
<text x="158.9" y="271.45" font-size="3.9" text-anchor="start" class="t" font-weight="bold">steps3</text>
<text x="92" y="372.2" font-size="8.6" text-anchor="middle" class="lab">1-4</text>
<g clip-path="url(#c7)">
<path fill="#d65f62" d="M213.3 347.09V345.52h1V344.96h1V345.24h1V344.19h1V344.85h1V345.73h1V345.49h1V345.4h1V345.21h1V344.11h1V344.2h1V345.81h1V344.64h1V343.45h1V344.93h1V344.93h1V345.43h1V344.01h1V342.64h1V345h1V344.39h1V344.39h1V344.44h1V343.9h1V345.03h1V344.85h1V344.89h1V343.2h1V344.77h1V343.09h1V344.59h1V344.77h1V344.2h1V341.8h1V341.8h1V344.14h1V343.62h1V343.62h1V344.38h1V344.69h1V344.73h1V343.88h1V343.67h1V344.18h1V344.53h1V341.78h1V341.78h1V343.07h1V343.81h1V343.74h1V344.01h1V344.13h1V343.15h1V342.27h1V342.27h1V342.66h1V344.33h1V342.42h1V342.96h1V343.45h1V344.84h1V342.92h1V342.65h1V343.48h1V342.85h1V339.33h1V345.88h-1V346.05h-1V346.19h-1V346.15h-1V345.95h-1V346.16h-1V346.25h-1V346.29h-1V346.29h-1V346.28h-1V346.33h-1V346.24h-1V346.36h-1V346.36h-1V346.31h-1V346.27h-1V346.36h-1V346.42h-1V346.43h-1V346.37h-1V346.4h-1V346.43h-1V346.47h-1V346.47h-1V346.48h-1V346.46h-1V346.55h-1V346.34h-1V346.56h-1V346.45h-1V346.55h-1V346.51h-1V346.51h-1V346.56h-1V346.65h-1V346.64h-1V346.64h-1V346.56h-1V346.7h-1V346.7h-1V346.74h-1V346.71h-1V346.77h-1V346.74h-1V346.78h-1V346.74h-1V346.77h-1V346.84h-1V346.83h-1V346.81h-1V346.9h-1V346.74h-1V346.88h-1V346.88h-1V346.94h-1V346.92h-1V346.92h-1V346.9h-1V346.95h-1V346.91h-1V347h-1V347.01h-1V347.06h-1V347.01h-1V346.93h-1V347.09h-1ZM237.1 336.5h1.4V347.3h-1.4ZM226.3 339.8h1.4V347.3h-1.4Z"/>
<path fill="#f8901c" d="M213.3 347.08V345.24h1V344.78h1V344.94h1V343.67h1V344.3h1V343h1V344.55h1V343.99h1V345.14h1V342.97h1V343.71h1V343.98h1V343.98h1V344.51h1V345.12h1V344.97h1V345.16h1V344.39h1V344.39h1V344.46h1V342.63h1V344.88h1V343.87h1V342.94h1V343.56h1V343.61h1V342.98h1V342.69h1V344.27h1V342.6h1V344.06h1V344.07h1V342.11h1V344.17h1V343.51h1V344.13h1V344.73h1V342.3h1V343.9h1V342.72h1V341.73h1V341.48h1V343.95h1V344.15h1V341.2h1V341.7h1V342.42h1V341.91h1V340.06h1V344.74h1V343.58h1V343.71h1V342.9h1V341.62h1V341.62h1V341.01h1V339.32h1V342.33h1V341.65h1V343.05h1V341.76h1V341.76h1V340.4h1V343.12h1V341.29h1V341.29h1V346.2h-1V346.2h-1V346.07h-1V346.1h-1V346.07h-1V346.21h-1V345.91h-1V346.01h-1V346.17h-1V346.3h-1V346.33h-1V346.24h-1V346.36h-1V346.36h-1V346.35h-1V346.4h-1V346.42h-1V346.23h-1V346.24h-1V346.36h-1V346.39h-1V346.26h-1V346.47h-1V346.5h-1V346.39h-1V346.53h-1V346.55h-1V346.55h-1V346.55h-1V346.6h-1V346.6h-1V346.35h-1V346.62h-1V346.63h-1V346.56h-1V346.68h-1V346.6h-1V346.7h-1V346.68h-1V346.43h-1V346.51h-1V346.71h-1V346.77h-1V346.78h-1V346.79h-1V346.8h-1V346.82h-1V346.73h-1V346.87h-1V346.87h-1V346.87h-1V346.87h-1V346.72h-1V346.81h-1V346.91h-1V346.88h-1V346.95h-1V347h-1V346.91h-1V346.92h-1V346.97h-1V346.99h-1V347.03h-1V346.84h-1V347.02h-1V347.08h-1ZM214.8 339.8h1.4V347.3h-1.4ZM218.2 336h1.4V347.3h-1.4ZM222.3 337.1h1.4V347.3h-1.4ZM248.5 329h1.4V347.3h-1.4ZM249.1 331h1.4V347.3h-1.4ZM253.9 325h1.4V347.3h-1.4ZM268.4 292.9h1.4V347.3h-1.4Z"/>
<path fill="#24b2aa" d="M213.3 346.92V344.31h1V343.83h1V344.07h1V343.83h1V342.51h1V345.39h1V345.31h1V345.11h1V344.96h1V344.12h1V344.27h1V342.79h1V342.79h1V344.77h1V344.74h1V343.45h1V344.11h1V344h1V343.91h1V342.61h1V342.61h1V343.27h1V344.54h1V343.61h1V343.61h1V343.8h1V343.39h1V340.62h1V344.24h1V343.04h1V342.97h1V343.72h1V343.85h1V342h1V341.44h1V341.65h1V340.91h1V341.63h1V342.91h1V342.18h1V343.95h1V340.96h1V342.5h1V340.42h1V340.42h1V343.92h1V343.39h1V322.11h1V321.04h1V325.34h1V337.47h1V333.82h1V335.47h1V336.95h1V340.28h1V337.77h1V337.32h1V338.26h1V339.34h1V342.15h1V342.1h1V342.15h1V342.28h1V343.85h1V340.28h1V343.81h1V345.39h-1V345.47h-1V345.5h-1V345.5h-1V345.52h-1V345.54h-1V345.56h-1V345.56h-1V345.59h-1V345.63h-1V345.63h-1V345.65h-1V345.68h-1V345.71h-1V345.71h-1V345.68h-1V345.7h-1V345.78h-1V345.76h-1V345.8h-1V345.83h-1V345.85h-1V345.88h-1V345.9h-1V345.93h-1V345.96h-1V345.96h-1V346h-1V346.01h-1V346.03h-1V346.08h-1V346.09h-1V346.12h-1V346.13h-1V346.17h-1V346.19h-1V346.22h-1V346.23h-1V346.27h-1V346.29h-1V346.31h-1V346.35h-1V346.37h-1V346.37h-1V346.42h-1V346.4h-1V346.47h-1V346.48h-1V346.49h-1V346.52h-1V346.56h-1V346.59h-1V346.59h-1V346.63h-1V346.67h-1V346.68h-1V346.7h-1V346.72h-1V346.75h-1V346.78h-1V346.8h-1V346.81h-1V346.83h-1V346.87h-1V346.88h-1V346.92h-1ZM223.9 339h1.4V347.3h-1.4ZM234.7 335.8h1.4V347.3h-1.4ZM260.8 305.1h1.4V347.3h-1.4ZM265.6 325h1.4V347.3h-1.4ZM263.2 328h1.4V347.3h-1.4ZM274.3 329.8h1.4V347.3h-1.4ZM277 260.5h1V347.3h-1ZM277.9 325h1.4V347.3h-1.4Z"/>
<path stroke="#24b2aa" stroke-width="1.1" d="M278.96 345.45H351.85"/>
</g>
<rect x="206.9" y="255.7" width="152.7" height="95.4" fill="none" stroke="#2a2a2a" stroke-width="1"/>
<text x="203.6" y="348.85" font-size="4.3" text-anchor="end" class="t">0</text>
<text x="203.6" y="330.32" font-size="4.3" text-anchor="end" class="t">500</text>
<text x="203.6" y="311.8" font-size="4.3" text-anchor="end" class="t">1000</text>
<text x="203.6" y="293.28" font-size="4.3" text-anchor="end" class="t">1500</text>
<text x="203.6" y="274.75" font-size="4.3" text-anchor="end" class="t">2000</text>
<text x="213.3" y="357" font-size="4.3" text-anchor="middle" class="t">0</text>
<text x="232.54" y="357" font-size="4.3" text-anchor="middle" class="t">250</text>
<text x="251.79" y="357" font-size="4.3" text-anchor="middle" class="t">500</text>
<text x="271.03" y="357" font-size="4.3" text-anchor="middle" class="t">750</text>
<text x="290.27" y="357" font-size="4.3" text-anchor="middle" class="t">1000</text>
<text x="309.51" y="357" font-size="4.3" text-anchor="middle" class="t">1250</text>
<text x="328.76" y="357" font-size="4.3" text-anchor="middle" class="t">1500</text>
<text x="348" y="357" font-size="4.3" text-anchor="middle" class="t">1750</text>
<path stroke="#222" stroke-width="0.7" d="M206.9 347.3h-1.8M206.9 328.77h-1.8M206.9 310.25h-1.8M206.9 291.73h-1.8M206.9 273.2h-1.8M213.3 351.1v1.8M232.54 351.1v1.8M251.79 351.1v1.8M271.03 351.1v1.8M290.27 351.1v1.8M309.51 351.1v1.8M328.76 351.1v1.8M348 351.1v1.8"/>
<text x="283.25" y="253.4" font-size="4.55" text-anchor="middle" class="h" font-weight="bold">Steps</text>
<text x="283.25" y="361.3" font-size="4.2" text-anchor="middle" class="t">Episode</text>
<text x="188.6" y="303.4" font-size="3.7" text-anchor="middle" class="t" transform="rotate(-90 188.6 303.4)" dy="1.3">Steps</text>
<rect x="326.4" y="257.9" width="29.4" height="15.5" rx="0.6" fill="#fff" fill-opacity="0.8" stroke="#e4e4e4" stroke-width="0.4"/>
<path stroke="#d65f62" stroke-width="1.1" stroke-opacity="0.85" d="M328.2 260.5H338.2"/>
<text x="341" y="261.95" font-size="3.9" text-anchor="start" class="t" font-weight="bold">steps1</text>
<path stroke="#f8901c" stroke-width="1.1" stroke-opacity="0.85" d="M328.2 265.6H338.2"/>
<text x="341" y="267.05" font-size="3.9" text-anchor="start" class="t" font-weight="bold">steps2</text>
<path stroke="#24b2aa" stroke-width="1.1" stroke-opacity="0.85" d="M328.2 270.8H338.2"/>
<text x="341" y="272.25" font-size="3.9" text-anchor="start" class="t" font-weight="bold">steps3</text>
<text x="275.5" y="372.2" font-size="8.6" text-anchor="middle" class="lab">2-4</text>
<g clip-path="url(#c8)">
<path fill="#d65f62" d="M398.7 347.24V346.36h1V346.43h1V345.35h1V344.85h1V346.11h1V346.28h1V346.14h1V345.88h1V345.56h1V346.25h1V345.05h1V346.02h1V346.05h1V345.58h1V345.98h1V346.48h1V344.53h1V344.88h1V345.1h1V345.6h1V345.9h1V346.34h1V345.63h1V345.28h1V345.65h1V346.36h1V346.35h1V345.79h1V345.54h1V345.45h1V345.45h1V345.83h1V345.31h1V345.23h1V345.41h1V345.34h1V344.36h1V344.73h1V345.06h1V344.37h1V344.68h1V344.22h1V344.22h1V344.07h1V345.42h1V344.84h1V343.62h1V343.83h1V345.04h1V344.95h1V345.64h1V345.14h1V345.5h1V343.34h1V345.24h1V345.24h1V345.51h1V345.42h1V345h1V345.22h1V345.3h1V345.16h1V344.71h1V345.13h1V343.87h1V345.49h1V343.27h1V344.78h1V344.69h1V344.34h1V343.32h1V338.45h1V334.06h1V337.85h1V335.38h1V334.29h1V346.6h-1V346.58h-1V346.51h-1V346.05h-1V346.63h-1V346.63h-1V346.48h-1V346.7h-1V346.56h-1V346.71h-1V346.6h-1V346.6h-1V346.69h-1V346.73h-1V346.72h-1V346.64h-1V346.72h-1V346.74h-1V346.79h-1V346.79h-1V346.8h-1V346.8h-1V346.81h-1V346.77h-1V346.83h-1V346.8h-1V346.85h-1V346.82h-1V346.87h-1V346.86h-1V346.88h-1V346.89h-1V346.88h-1V346.91h-1V346.91h-1V346.88h-1V346.91h-1V346.93h-1V346.93h-1V346.89h-1V346.95h-1V346.94h-1V346.92h-1V346.98h-1V346.98h-1V347h-1V347.01h-1V347.01h-1V347h-1V346.98h-1V347.05h-1V347.01h-1V347.05h-1V347.02h-1V347.03h-1V347.06h-1V347.02h-1V347.09h-1V347.11h-1V347.12h-1V347.13h-1V347.11h-1V347.11h-1V347.06h-1V347.15h-1V347.14h-1V347.15h-1V347.1h-1V347.16h-1V347.19h-1V347.18h-1V347.21h-1V347.2h-1V347.2h-1V347.2h-1V347.24h-1ZM415.2 338.5h1.4V347.4h-1.4ZM418.5 337.8h1.4V347.4h-1.4ZM431.1 339.8h1.4V347.4h-1.4ZM456.5 325.9h1.4V347.4h-1.4Z"/>
<path fill="#f8901c" d="M398.7 347.24V346.16h1V345.5h1V345.5h1V345.72h1V345.94h1V346.02h1V344.65h1V345.57h1V346.16h1V345.64h1V345.9h1V345.02h1V345.02h1V346.07h1V345.68h1V344.7h1V345.27h1V345.75h1V345.79h1V345.33h1V345.98h1V345.9h1V344h1V345.71h1V344.58h1V345.57h1V345.75h1V344.14h1V344.14h1V344.73h1V344.24h1V345.32h1V345.22h1V344.92h1V344.92h1V346.17h1V344.31h1V344.31h1V345.2h1V346.06h1V343.46h1V343.46h1V345.23h1V344.99h1V345.49h1V345.66h1V344.12h1V343.93h1V345.25h1V345.33h1V344.61h1V344.79h1V344.35h1V344.29h1V345.83h1V344.23h1V344.2h1V343.15h1V344.09h1V345.54h1V345.18h1V344.33h1V344.33h1V343.47h1V344.94h1V344.8h1V344.92h1V342.63h1V344.5h1V343.61h1V341.45h1V325.64h1V325.64h1V331.39h1V332.29h1V332.29h1V346.38h-1V346.63h-1V346.59h-1V346.44h-1V346.44h-1V346.65h-1V346.66h-1V346.53h-1V346.64h-1V346.49h-1V346.68h-1V346.71h-1V346.74h-1V346.69h-1V346.71h-1V346.76h-1V346.77h-1V346.76h-1V346.75h-1V346.78h-1V346.79h-1V346.82h-1V346.82h-1V346.83h-1V346.84h-1V346.82h-1V346.85h-1V346.84h-1V346.78h-1V346.88h-1V346.89h-1V346.88h-1V346.79h-1V346.84h-1V346.84h-1V346.91h-1V346.93h-1V346.84h-1V346.88h-1V346.96h-1V346.96h-1V346.77h-1V346.93h-1V346.87h-1V346.98h-1V346.98h-1V346.89h-1V347h-1V347.02h-1V347.04h-1V347h-1V347.05h-1V346.98h-1V346.98h-1V347.04h-1V347.07h-1V347.05h-1V347.05h-1V347.02h-1V347.06h-1V347.1h-1V347.13h-1V347.13h-1V347.13h-1V347.1h-1V347.17h-1V347.17h-1V347.17h-1V347.17h-1V347.19h-1V347.17h-1V347.19h-1V347.19h-1V347.19h-1V347.22h-1V347.24h-1ZM403.9 340.5h1.4V347.4h-1.4ZM412.5 341h1.4V347.4h-1.4ZM417.2 337h1.4V347.4h-1.4ZM422.05 327.2h1.5V347.4h-1.5ZM423.1 337h1.4V347.4h-1.4ZM444.6 339.8h1.4V347.4h-1.4ZM450.6 327.9h1.4V347.4h-1.4ZM454.15 317.9h1.5V347.4h-1.5ZM455.9 323.9h1.4V347.4h-1.4ZM461.8 329.8h1.4V347.4h-1.4ZM465.2 335.1h1.4V347.4h-1.4ZM466.5 338.5h1.4V347.4h-1.4Z"/>
<path fill="#24b2aa" d="M398.7 347.08V345.26h1V344.41h1V346h1V345.97h1V344.59h1V345.53h1V346.02h1V345.08h1V344.87h1V344.9h1V344.89h1V344.35h1V344.56h1V344.33h1V346.22h1V345.69h1V344.87h1V344.69h1V343.97h1V345.29h1V345.89h1V344h1V344.43h1V344.43h1V345.06h1V343.56h1V343.5h1V344.71h1V345.14h1V344.95h1V345.56h1V344.22h1V345.33h1V344.3h1V345.28h1V343.87h1V343.85h1V344.15h1V343.67h1V343.18h1V344.22h1V345.03h1V345.03h1V343.28h1V343.89h1V343.89h1V344.86h1V344.55h1V344.65h1V343.67h1V344.12h1V343.03h1V344.6h1V342.87h1V343h1V343.34h1V345.04h1V344.36h1V344.36h1V344.33h1V344.86h1V342.4h1V343.66h1V343.66h1V344h1V343.68h1V343.17h1V343.17h1V344.48h1V342.77h1V342.96h1V334.74h1V335.19h1V334.03h1V335.22h1V330.6h1V346.15h-1V345.85h-1V346.13h-1V346.23h-1V346.23h-1V346.25h-1V346.18h-1V346.28h-1V346.24h-1V346.24h-1V346.3h-1V346.16h-1V346.34h-1V346.36h-1V346.36h-1V346.37h-1V346.26h-1V346.37h-1V346.4h-1V346.42h-1V346.3h-1V346.42h-1V346.42h-1V346.43h-1V346.31h-1V346.41h-1V346.49h-1V346.49h-1V346.51h-1V346.53h-1V346.53h-1V346.5h-1V346.52h-1V346.51h-1V346.51h-1V346.62h-1V346.62h-1V346.63h-1V346.59h-1V346.64h-1V346.58h-1V346.42h-1V346.59h-1V346.72h-1V346.69h-1V346.72h-1V346.67h-1V346.75h-1V346.76h-1V346.74h-1V346.78h-1V346.8h-1V346.79h-1V346.81h-1V346.8h-1V346.79h-1V346.8h-1V346.85h-1V346.83h-1V346.91h-1V346.9h-1V346.79h-1V346.93h-1V346.91h-1V346.97h-1V346.97h-1V346.92h-1V346.89h-1V346.98h-1V347h-1V346.99h-1V347.01h-1V346.99h-1V347.07h-1V347.06h-1V347.08h-1ZM399.3 343.8h1.4V347.4h-1.4ZM427.8 338.5h1.4V347.4h-1.4ZM434.4 341h1.4V347.4h-1.4ZM459.9 329.2h1.4V347.4h-1.4ZM460.8 333h1.4V347.4h-1.4ZM470 261h1V347.4h-1ZM470.6 311h1.4V347.4h-1.4ZM473.1 321.2h1.4V347.4h-1.4Z"/>
<path stroke="#24b2aa" stroke-width="1.1" d="M474.61 346.2H538.28"/>
</g>
<rect x="391.9" y="257" width="153.6" height="94.4" fill="none" stroke="#2a2a2a" stroke-width="1"/>
<text x="388.6" y="348.95" font-size="4.3" text-anchor="end" class="t">0</text>
<text x="388.6" y="333.92" font-size="4.3" text-anchor="end" class="t">500</text>
<text x="388.6" y="318.88" font-size="4.3" text-anchor="end" class="t">1000</text>
<text x="388.6" y="303.85" font-size="4.3" text-anchor="end" class="t">1500</text>
<text x="388.6" y="288.82" font-size="4.3" text-anchor="end" class="t">2000</text>
<text x="388.6" y="273.78" font-size="4.3" text-anchor="end" class="t">2500</text>
<text x="388.6" y="258.75" font-size="4.3" text-anchor="end" class="t">3000</text>
<text x="398.7" y="357.3" font-size="4.3" text-anchor="middle" class="t">0</text>
<text x="418.09" y="357.3" font-size="4.3" text-anchor="middle" class="t">250</text>
<text x="437.47" y="357.3" font-size="4.3" text-anchor="middle" class="t">500</text>
<text x="456.86" y="357.3" font-size="4.3" text-anchor="middle" class="t">750</text>
<text x="476.24" y="357.3" font-size="4.3" text-anchor="middle" class="t">1000</text>
<text x="495.63" y="357.3" font-size="4.3" text-anchor="middle" class="t">1250</text>
<text x="515.01" y="357.3" font-size="4.3" text-anchor="middle" class="t">1500</text>
<text x="534.4" y="357.3" font-size="4.3" text-anchor="middle" class="t">1750</text>
<path stroke="#222" stroke-width="0.7" d="M391.9 347.4h-1.8M391.9 332.37h-1.8M391.9 317.33h-1.8M391.9 302.3h-1.8M391.9 287.27h-1.8M391.9 272.23h-1.8M391.9 257.2h-1.8M398.7 351.4v1.8M418.09 351.4v1.8M437.47 351.4v1.8M456.86 351.4v1.8M476.24 351.4v1.8M495.63 351.4v1.8M515.01 351.4v1.8M534.4 351.4v1.8"/>
<text x="468.7" y="254.7" font-size="4.55" text-anchor="middle" class="h" font-weight="bold">Steps</text>
<text x="468.7" y="361.6" font-size="4.2" text-anchor="middle" class="t">Episode</text>
<text x="373.6" y="304.2" font-size="3.7" text-anchor="middle" class="t" transform="rotate(-90 373.6 304.2)" dy="1.3">Steps</text>
<rect x="512.9" y="258.9" width="29.2" height="15.6" rx="0.6" fill="#fff" fill-opacity="0.8" stroke="#e4e4e4" stroke-width="0.4"/>
<path stroke="#d65f62" stroke-width="1.1" stroke-opacity="0.85" d="M514.7 261.5H524.2"/>
<text x="527.3" y="262.95" font-size="3.9" text-anchor="start" class="t" font-weight="bold">steps1</text>
<path stroke="#f8901c" stroke-width="1.1" stroke-opacity="0.85" d="M514.7 266.9H524.2"/>
<text x="527.3" y="268.35" font-size="3.9" text-anchor="start" class="t" font-weight="bold">steps2</text>
<path stroke="#24b2aa" stroke-width="1.1" stroke-opacity="0.85" d="M514.7 271.9H524.2"/>
<text x="527.3" y="273.35" font-size="3.9" text-anchor="start" class="t" font-weight="bold">steps3</text>
<text x="459.6" y="372.2" font-size="8.6" text-anchor="middle" class="lab">3-4</text></svg></body></html>
